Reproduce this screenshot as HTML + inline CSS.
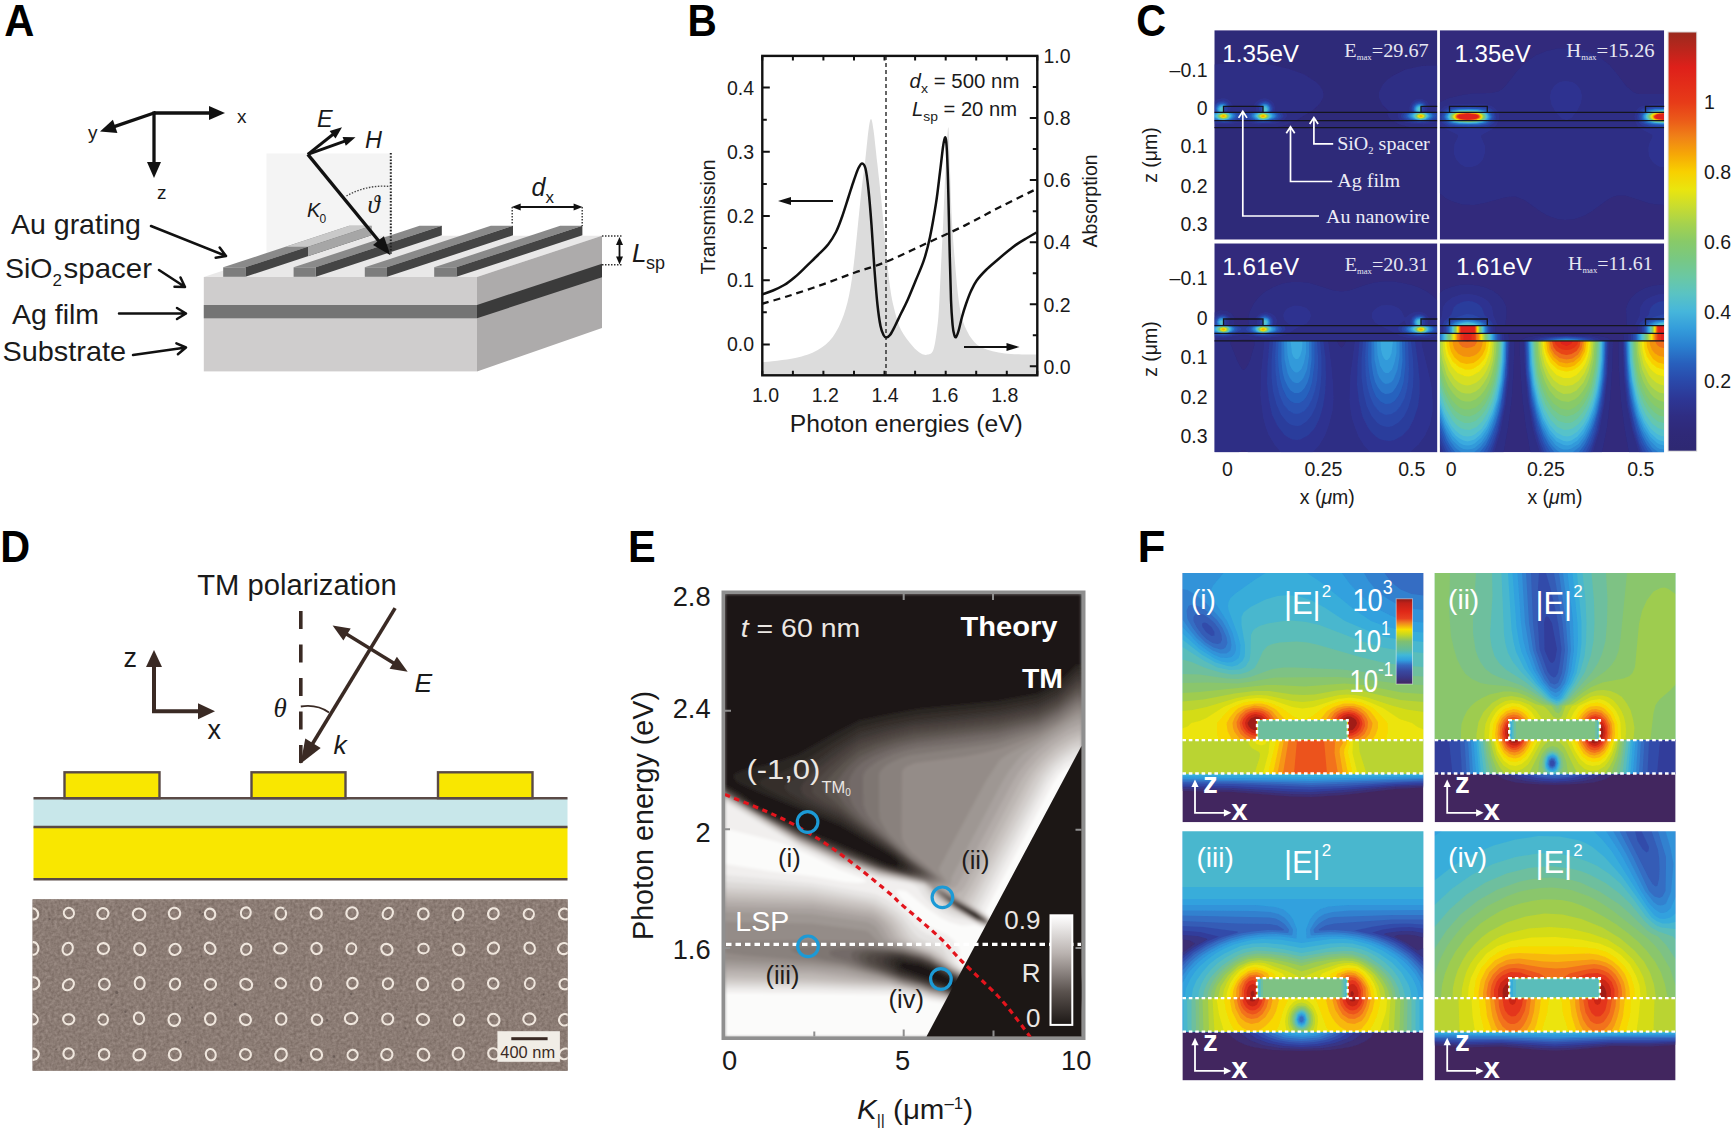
<!DOCTYPE html>
<html><head><meta charset="utf-8"><title>Figure</title>
<style>html,body{margin:0;padding:0;background:#fff;overflow:hidden}svg{display:block}</style>
</head><body>
<svg font-family='"Liberation Sans", sans-serif' width="1733" height="1132" viewBox="0 0 1733 1132">
<defs>
<linearGradient id="cbarC" x1="0" y1="0" x2="0" y2="1"><stop offset="0.000" stop-color="#9b2a1e"/><stop offset="0.042" stop-color="#bc251c"/><stop offset="0.083" stop-color="#de201a"/><stop offset="0.125" stop-color="#e32d19"/><stop offset="0.167" stop-color="#e73b18"/><stop offset="0.208" stop-color="#eb5919"/><stop offset="0.250" stop-color="#f08217"/><stop offset="0.292" stop-color="#f6a806"/><stop offset="0.333" stop-color="#f8d000"/><stop offset="0.375" stop-color="#eae50e"/><stop offset="0.417" stop-color="#c8dc30"/><stop offset="0.458" stop-color="#a5d24e"/><stop offset="0.500" stop-color="#88ca68"/><stop offset="0.542" stop-color="#78c883"/><stop offset="0.583" stop-color="#6bc8a2"/><stop offset="0.625" stop-color="#5ac3c3"/><stop offset="0.667" stop-color="#46b6db"/><stop offset="0.708" stop-color="#349ddb"/><stop offset="0.750" stop-color="#2a80d0"/><stop offset="0.792" stop-color="#285fbc"/><stop offset="0.833" stop-color="#2a49aa"/><stop offset="0.875" stop-color="#2d3796"/><stop offset="0.917" stop-color="#2f2d83"/><stop offset="0.958" stop-color="#2f2978"/><stop offset="1.000" stop-color="#2e2872"/></linearGradient>
<filter id="b07" x="-5%" y="-5%" width="110%" height="110%"><feGaussianBlur stdDeviation="0.7"/></filter>
<clipPath id="c1"><rect x="1214.3" y="30.2" width="223.29999999999995" height="209.60000000000002"/></clipPath>
<clipPath id="c2"><rect x="1439.6" y="30.2" width="224.60000000000014" height="209.60000000000002"/></clipPath>
<clipPath id="c3"><rect x="1214.3" y="243.2" width="223.29999999999995" height="209.10000000000002"/></clipPath>
<clipPath id="c4"><rect x="1439.6" y="243.2" width="224.60000000000014" height="209.10000000000002"/></clipPath>
<clipPath id="semclip"><rect x="32.5" y="899.3" width="535.2" height="171.4"/></clipPath>
<filter id="noise" x="0" y="0" width="100%" height="100%" color-interpolation-filters="sRGB"><feTurbulence type="fractalNoise" baseFrequency="0.33" numOctaves="2" seed="4"/><feColorMatrix type="matrix" values="0.2 0 0 0 0.445  0.2 0 0 0 0.385  0.2 0 0 0 0.355  0 0 0 0 1"/></filter>
<clipPath id="ce"><rect x="725.0" y="594.0" width="356.5" height="442.5"/></clipPath>
<filter id="b12" x="-5%" y="-5%" width="110%" height="110%"><feGaussianBlur stdDeviation="1.6"/></filter>
<linearGradient id="cbarE" x1="0" y1="0" x2="0" y2="1"><stop offset="0" stop-color="#fff"/><stop offset="0.35" stop-color="#b9b2af"/><stop offset="0.7" stop-color="#5a524e"/><stop offset="1" stop-color="#1c1715"/></linearGradient>
<clipPath id="cf00"><rect x="1182.4" y="573.1" width="241.0" height="249.2"/></clipPath><clipPath id="cf01"><rect x="1182.4" y="831.2" width="241.0" height="249.2"/></clipPath><clipPath id="cf10"><rect x="1434.6" y="573.1" width="241.0" height="249.2"/></clipPath><clipPath id="cf11"><rect x="1434.6" y="831.2" width="241.0" height="249.2"/></clipPath>
</defs>
<rect width="1733" height="1132" fill="#fff"/>
<g id="pA">
<text x="4.2" y="36.0" font-size="45" font-weight="bold" fill="#000" textLength="30.1" lengthAdjust="spacingAndGlyphs">A</text>
<line x1="154.0" y1="113.0" x2="213.8" y2="113.0" stroke="#111" stroke-width="3.3"/><polygon points="225.0,113.0 209.0,120.0 209.0,106.0" fill="#111"/>
<line x1="154.0" y1="111.5" x2="154.0" y2="166.8" stroke="#111" stroke-width="3.3"/><polygon points="154.0,178.0 147.0,162.0 161.0,162.0" fill="#111"/>
<line x1="155.5" y1="112.5" x2="110.6" y2="127.9" stroke="#111" stroke-width="3.3"/><polygon points="100.0,131.5 112.9,119.7 117.4,132.9" fill="#111"/>
<text x="237" y="123" font-size="19" fill="#1a1a1a">x</text>
<text x="88" y="139" font-size="19" fill="#1a1a1a">y</text>
<text x="157" y="199" font-size="19" fill="#1a1a1a">z</text>
<rect x="266.5" y="153.5" width="125.5" height="100" fill="#f4f4f4"/>
<polygon points="203.8,277 477,277 602,235.8 328.8,235.8" fill="#e9e8e8"/>
<rect x="203.8" y="277" width="273.2" height="94.4" fill="#cfcdcd"/>
<rect x="203.8" y="305" width="273.2" height="13.3" fill="#747474"/>
<polygon points="477,277 602,235.8 602,328 477,371.4" fill="#adabab"/>
<polygon points="477,305 602,263.8 602,277.2 477,318.3" fill="#3b3b3b"/>
<polygon points="223.2,267.3 245.39999999999998,267.3 371.4,225.8 349.2,225.8" fill="#8a8a8a"/>
<polygon points="245.39999999999998,267.3 371.4,225.8 371.4,235.3 245.39999999999998,276.8" fill="#444"/>
<rect x="223.2" y="267.3" width="22.2" height="9.5" fill="#7d7d7d"/>
<polygon points="293.6,267.3 315.8,267.3 441.8,225.8 419.6,225.8" fill="#8a8a8a"/>
<polygon points="315.8,267.3 441.8,225.8 441.8,235.3 315.8,276.8" fill="#444"/>
<rect x="293.6" y="267.3" width="22.2" height="9.5" fill="#7d7d7d"/>
<polygon points="364.8,267.3 387.0,267.3 513.0,225.8 490.8,225.8" fill="#8a8a8a"/>
<polygon points="387.0,267.3 513.0,225.8 513.0,235.3 387.0,276.8" fill="#444"/>
<rect x="364.8" y="267.3" width="22.2" height="9.5" fill="#7d7d7d"/>
<polygon points="434.2,267.3 456.4,267.3 582.4,225.8 560.2,225.8" fill="#8a8a8a"/>
<polygon points="456.4,267.3 582.4,225.8 582.4,235.3 456.4,276.8" fill="#444"/>
<rect x="434.2" y="267.3" width="22.2" height="9.5" fill="#7d7d7d"/>
<polygon points="266.5,153.5 392,153.5 392,253 386,255 340,270 266.5,270" fill="#fff" fill-opacity="0" />
<polygon points="285.8,246.7 308,246.7 371.4,225.8 349.2,225.8" fill="#c9c9c9"/>
<polygon points="308,246.7 371.4,225.8 371.4,235.3 308,256.2" fill="#a6a6a6"/>
<line x1="390.8" y1="153" x2="390.8" y2="255" stroke="#222" stroke-width="2" stroke-dasharray="1.6,1.6"/>
<path d="M346.5,196 A72,72 0 0 1 390,186.5" fill="none" stroke="#444" stroke-width="1.4" stroke-dasharray="1.5,1.5"/>
<line x1="307.8" y1="154.4" x2="382.1" y2="245.0" stroke="#111" stroke-width="3.3"/><polygon points="390.5,255.3 373.0,245.0 383.9,236.2" fill="#111"/>
<line x1="307.8" y1="154.4" x2="335.4" y2="132.5" stroke="#111" stroke-width="3"/><polygon points="342.0,127.3 335.5,138.5 329.6,131.0" fill="#111"/>
<line x1="307.8" y1="154.4" x2="347.6" y2="140.1" stroke="#111" stroke-width="3"/><polygon points="355.5,137.3 345.8,145.8 342.6,136.9" fill="#111"/>
<text x="317" y="126.5" font-size="23.5" font-style="italic" fill="#1a1a1a">E</text>
<text x="365" y="147.5" font-size="23.5" font-style="italic" fill="#1a1a1a">H</text>
<text x="307" y="216.5" font-size="20" font-style="italic" fill="#1a1a1a">K</text>
<text x="319.5" y="222.5" font-size="12" fill="#1a1a1a">0</text>
<text x="367.5" y="213" font-size="25" font-style="italic" font-family='"Liberation Serif","DejaVu Serif",serif' fill="#1a1a1a">ϑ</text>
<line x1="518.0" y1="207.0" x2="576.3" y2="207.0" stroke="#111" stroke-width="1.8"/><polygon points="582.6,207.0 573.6,210.5 573.6,203.5" fill="#111"/><polygon points="511.7,207.0 520.7,203.5 520.7,210.5" fill="#111"/>
<path d="M512.2,207 V225 M582.2,207 V226" stroke="#333" stroke-width="1.4" stroke-dasharray="1.5,1.5" fill="none"/>
<text x="531.5" y="195.5" font-size="25" font-style="italic" fill="#1a1a1a">d</text>
<text x="545.5" y="203" font-size="17" fill="#1a1a1a">x</text>
<line x1="619.5" y1="242.6" x2="619.5" y2="258.9" stroke="#111" stroke-width="1.8"/><polygon points="619.5,264.5 616.0,256.5 623.0,256.5" fill="#111"/><polygon points="619.5,237.0 623.0,245.0 616.0,245.0" fill="#111"/>
<path d="M602,236 H622 M602,264.8 H622" stroke="#333" stroke-width="1.4" stroke-dasharray="1.5,1.5" fill="none"/>
<text x="632" y="262" font-size="26" font-style="italic" fill="#1a1a1a">L</text>
<text x="646" y="269" font-size="18" fill="#1a1a1a">sp</text>
<text x="11" y="234" font-size="28.5" fill="#1a1a1a">Au grating</text>
<text x="5" y="278" font-size="28.5" fill="#1a1a1a">SiO</text>
<text x="52.5" y="286" font-size="17" fill="#1a1a1a">2</text>
<text x="63.5" y="278" font-size="28.5" fill="#1a1a1a" textLength="88.5" lengthAdjust="spacingAndGlyphs">spacer</text>
<text x="12" y="324" font-size="28.5" fill="#1a1a1a">Ag film</text>
<text x="2.5" y="361" font-size="28.5" fill="#1a1a1a" textLength="123.5" lengthAdjust="spacingAndGlyphs">Substrate</text>
<path d="M151,226 L226,256 M215.7,257.8 L226,256 L219.7,247.6" fill="none" stroke="#111" stroke-width="2.5" stroke-linecap="round" stroke-linejoin="round"/>
<path d="M159,270 L185,287 M174.5,286.7 L185,287 L180.5,277.5" fill="none" stroke="#111" stroke-width="2.5" stroke-linecap="round" stroke-linejoin="round"/>
<path d="M119,313.5 L186,313.5 M177.0,319.0 L186,313.5 L177.0,308.0" fill="none" stroke="#111" stroke-width="2.5" stroke-linecap="round" stroke-linejoin="round"/>
<path d="M133,355 L186,347.5 M177.9,354.2 L186,347.5 L176.4,343.3" fill="none" stroke="#111" stroke-width="2.5" stroke-linecap="round" stroke-linejoin="round"/>
</g>
<g id="pB">
<text x="687.6" y="36.0" font-size="45" font-weight="bold" fill="#000" textLength="29.3" lengthAdjust="spacingAndGlyphs">B</text>
<path d="M762.0,362.3 C767.5,361.6 786.0,359.9 795.2,357.9 C804.4,355.9 811.0,353.7 817.3,350.2 C823.6,346.7 828.4,342.8 832.8,336.9 C837.2,331.0 840.9,322.9 843.8,314.8 C846.7,306.7 848.6,298.2 850.4,288.3 C852.2,278.4 853.5,266.2 854.8,255.2 C856.1,244.2 857.1,233.0 858.2,222.1 C859.3,211.2 860.4,199.9 861.5,190.0 C862.6,180.1 863.8,172.6 865.0,162.6 C866.2,152.6 867.5,137.3 868.5,130.0 C869.5,122.7 870.2,119.0 871.0,119.0 C871.8,119.0 872.5,122.7 873.5,130.0 C874.5,137.3 875.9,150.9 877.2,162.6 C878.5,174.3 879.8,185.4 881.3,200.0 C882.8,214.6 884.5,235.3 886.0,250.0 C887.5,264.7 888.8,278.2 890.2,288.3 C891.6,298.4 892.8,303.4 894.6,310.4 C896.4,317.4 898.2,324.4 901.2,330.3 C904.2,336.2 909.0,341.9 912.3,345.8 C915.6,349.7 918.5,352.0 921.1,353.5 C923.7,355.0 925.7,355.2 927.7,354.6 C929.7,354.1 931.7,353.9 933.2,350.2 C934.7,346.5 935.7,339.1 936.6,332.5 C937.5,325.9 938.1,321.4 938.8,310.4 C939.5,299.4 940.3,281.0 941.0,266.3 C941.7,251.6 942.5,238.1 943.2,222.0 C944.0,205.9 944.6,185.8 945.5,170.0 C946.4,154.2 947.5,127.2 948.3,127.2 C949.0,127.2 949.4,154.2 950.0,170.0 C950.6,185.8 951.1,205.9 952.0,222.0 C952.9,238.1 954.2,253.4 955.3,266.3 C956.4,279.2 957.3,290.2 958.6,299.4 C959.9,308.6 960.8,314.9 963.0,321.5 C965.2,328.1 968.6,334.7 971.9,339.1 C975.2,343.5 977.4,345.6 982.9,348.0 C988.4,350.4 996.1,352.4 1005.0,353.5 C1013.9,354.6 1030.8,354.4 1036.0,354.6 L1037.3,375.3 L762.3,375.3 Z" fill="#dcdcdc"/>
<line x1="886" y1="55.9" x2="886" y2="375.3" stroke="#333" stroke-width="1.5" stroke-dasharray="4,3"/>
<path d="M762.0,303.8 C766.7,302.4 780.0,298.7 790.0,295.5 C800.0,292.3 811.5,288.4 822.3,284.6 C833.1,280.8 844.4,276.3 855.0,272.5 C865.6,268.7 874.1,266.8 885.8,262.0 C897.5,257.2 911.9,250.1 925.0,244.0 C938.1,237.9 952.1,231.8 964.6,225.6 C977.1,219.4 988.0,213.1 1000.0,207.0 C1012.0,200.9 1030.4,192.0 1036.5,189.0" fill="none" stroke="#111" stroke-width="2.3" stroke-dasharray="7,5"/>
<path d="M762.1,294.5 C763.9,293.8 769.3,292.1 773.0,290.5 C776.7,288.9 780.5,287.2 784.2,285.0 C787.9,282.8 791.3,280.1 795.0,277.0 C798.7,273.9 802.5,270.0 806.3,266.3 C810.1,262.6 814.3,258.7 818.0,255.0 C821.7,251.3 825.3,248.0 828.3,244.2 C831.3,240.4 833.7,236.5 836.0,232.0 C838.3,227.5 839.9,222.8 842.0,217.0 C844.1,211.2 846.5,203.2 848.5,197.0 C850.5,190.8 852.3,184.8 854.0,180.0 C855.7,175.2 857.1,170.8 858.5,168.0 C859.9,165.2 860.9,163.3 862.1,163.4 C863.3,163.5 864.4,164.1 865.5,168.5 C866.6,172.9 867.5,180.6 868.5,190.0 C869.5,199.4 870.5,211.7 871.5,225.0 C872.5,238.3 873.5,256.7 874.5,270.0 C875.5,283.3 876.5,295.7 877.5,305.0 C878.5,314.3 879.5,321.0 880.5,326.0 C881.5,331.0 882.5,333.1 883.5,335.0 C884.5,336.9 885.2,337.6 886.3,337.6 C887.4,337.6 888.5,336.9 890.0,335.0 C891.5,333.1 893.2,329.6 895.0,326.0 C896.8,322.4 898.9,317.8 901.0,313.5 C903.1,309.2 905.2,305.4 907.6,300.0 C910.0,294.6 912.8,287.6 915.5,281.0 C918.2,274.4 921.5,267.5 923.9,260.2 C926.3,252.9 928.0,246.5 930.0,237.0 C932.0,227.5 934.3,214.1 936.0,203.3 C937.7,192.5 938.8,181.4 940.0,172.0 C941.2,162.6 942.2,152.8 943.0,147.0 C943.8,141.2 944.4,137.6 945.0,137.4 C945.6,137.2 946.1,138.9 946.6,146.0 C947.1,153.1 947.5,163.5 948.0,180.0 C948.5,196.5 949.0,225.0 949.5,245.0 C950.0,265.0 950.5,286.7 951.0,300.0 C951.5,313.3 952.1,319.2 952.6,325.0 C953.1,330.8 953.7,333.0 954.3,335.0 C954.9,337.0 955.3,337.7 956.0,337.0 C956.7,336.3 957.5,334.3 958.5,331.0 C959.5,327.7 960.8,321.5 962.0,317.0 C963.2,312.5 964.5,308.3 966.0,304.0 C967.5,299.7 969.2,294.9 971.0,291.0 C972.8,287.1 974.2,284.0 976.7,280.5 C979.2,277.0 982.6,273.4 986.0,270.0 C989.4,266.6 993.4,263.4 997.1,260.2 C1000.8,257.0 1004.6,253.7 1008.0,251.0 C1011.4,248.3 1014.2,246.1 1017.4,243.9 C1020.6,241.7 1023.8,239.9 1027.0,238.0 C1030.2,236.1 1034.9,233.4 1036.5,232.5" fill="none" stroke="#111" stroke-width="2.5" stroke-linejoin="round"/>
<rect x="762.3" y="55.9" width="275.0" height="319.40000000000003" fill="none" stroke="#111" stroke-width="2.4"/>
<path d="M762.3,55.9 v4.5 M762.3,375.3 v-4.5 M792.9,55.9 v4.5 M792.9,375.3 v-4.5 M823.4,55.9 v4.5 M823.4,375.3 v-4.5 M854.0,55.9 v4.5 M854.0,375.3 v-4.5 M884.5,55.9 v4.5 M884.5,375.3 v-4.5 M915.1,55.9 v4.5 M915.1,375.3 v-4.5 M945.7,55.9 v4.5 M945.7,375.3 v-4.5 M976.2,55.9 v4.5 M976.2,375.3 v-4.5 M1006.8,55.9 v4.5 M1006.8,375.3 v-4.5 M1037.3,55.9 v4.5 M1037.3,375.3 v-4.5 M762.3,344.4 h7.5 M762.3,312.3 h4.5 M762.3,280.2 h7.5 M762.3,248.1 h4.5 M762.3,216.0 h7.5 M762.3,183.9 h4.5 M762.3,151.8 h7.5 M762.3,119.7 h4.5 M762.3,87.6 h7.5 M1037.3,366.3 h-7.5 M1037.3,335.3 h-4.5 M1037.3,304.2 h-7.5 M1037.3,273.2 h-4.5 M1037.3,242.2 h-7.5 M1037.3,211.2 h-4.5 M1037.3,180.1 h-7.5 M1037.3,149.1 h-4.5 M1037.3,118.1 h-7.5 M1037.3,87.0 h-4.5" stroke="#111" stroke-width="2" fill="none"/>
<text x="754" y="351.4" font-size="19.5" text-anchor="end" fill="#1a1a1a">0.0</text>
<text x="754" y="287.2" font-size="19.5" text-anchor="end" fill="#1a1a1a">0.1</text>
<text x="754" y="222.99999999999997" font-size="19.5" text-anchor="end" fill="#1a1a1a">0.2</text>
<text x="754" y="158.79999999999995" font-size="19.5" text-anchor="end" fill="#1a1a1a">0.3</text>
<text x="754" y="94.59999999999997" font-size="19.5" text-anchor="end" fill="#1a1a1a">0.4</text>
<text x="1043.5" y="373.6" font-size="19.5" fill="#1a1a1a">0.0</text>
<text x="1043.5" y="311.54" font-size="19.5" fill="#1a1a1a">0.2</text>
<text x="1043.5" y="249.48000000000002" font-size="19.5" fill="#1a1a1a">0.4</text>
<text x="1043.5" y="187.42000000000002" font-size="19.5" fill="#1a1a1a">0.6</text>
<text x="1043.5" y="125.36" font-size="19.5" fill="#1a1a1a">0.8</text>
<text x="1043.5" y="63.3" font-size="19.5" fill="#1a1a1a">1.0</text>
<text x="765.5" y="402" font-size="19.5" text-anchor="middle" fill="#1a1a1a">1.0</text>
<text x="825.3" y="402" font-size="19.5" text-anchor="middle" fill="#1a1a1a">1.2</text>
<text x="885.1" y="402" font-size="19.5" text-anchor="middle" fill="#1a1a1a">1.4</text>
<text x="944.9" y="402" font-size="19.5" text-anchor="middle" fill="#1a1a1a">1.6</text>
<text x="1004.7" y="402" font-size="19.5" text-anchor="middle" fill="#1a1a1a">1.8</text>
<text x="789.8" y="431.8" font-size="24.6" fill="#1a1a1a" textLength="233" lengthAdjust="spacingAndGlyphs">Photon energies (eV)</text>
<text transform="translate(714.5,217) rotate(-90)" font-size="19.5" text-anchor="middle" fill="#1a1a1a">Transmission</text>
<text transform="translate(1097,201) rotate(-90)" font-size="19.5" text-anchor="middle" fill="#1a1a1a">Absorption</text>
<text x="909.6" y="87.7" font-size="19.6" fill="#1a1a1a" textLength="109.8" lengthAdjust="spacingAndGlyphs"><tspan font-style="italic">d</tspan><tspan font-size="13.5" dy="5">x</tspan><tspan dy="-5"> = 500 nm</tspan></text>
<text x="912" y="116.2" font-size="19.6" fill="#1a1a1a" textLength="105" lengthAdjust="spacingAndGlyphs"><tspan font-style="italic">L</tspan><tspan font-size="13.5" dy="5">sp</tspan><tspan dy="-5"> = 20 nm</tspan></text>
<line x1="833.0" y1="201.0" x2="787.1" y2="201.0" stroke="#111" stroke-width="2.2"/><polygon points="778.0,201.0 791.0,197.0 791.0,205.0" fill="#111"/>
<line x1="964.0" y1="347.0" x2="1010.4" y2="347.0" stroke="#111" stroke-width="2.2"/><polygon points="1019.5,347.0 1006.5,351.0 1006.5,343.0" fill="#111"/>
</g>
<g id="pC">
<text x="1136.2" y="35.6" font-size="45" font-weight="bold" fill="#000" textLength="29.8" lengthAdjust="spacingAndGlyphs">C</text>
<g clip-path="url(#c1)"><g filter="url(#b07)">
<rect x="1214.3" y="30.2" width="223.29999999999995" height="209.60000000000002" fill="#2f2979"/>
<path fill="#2f2e85" fill-rule="evenodd" d="M1323,98l-3.5,6-6.5,6-18.5,11.5-10,4-10,2-11,1-38,0-11-0.5 0-63.5 19-2 20,0 19,2.5 17,4 15,5.5 11.5,7.5 4,4 2.5,4 1,4zM1437.5,127l-15,1-13-1-10-2.5-8-4.5-3-3-1.5-4 3-1-7.5-7-3.5-7 0-6 3.5-7 4.5-5 5.5-4 13-6.5 16-3.5 16-0.5z"/>
<path fill="#2e3390" fill-rule="evenodd" d="M1287,116l-2,3-3.5,2.5-6,2-6,0.5-11,0.5-15-2.5-17,2.5-12-0.5 0-22.5 3-2 4-1 4,0 3,1.5 2,2 2.5,4-2.5,1-0.5,5 26.5,0-0.5-5-2.5-1 1.5-3 4.5-3.5 3-1 4,0 5,2.5 2.5,3 1,4-0.5,4 11.5,1zM1437.5,122l-14,2.5-13-1-5-1-5-2.5-2-2-1-3 1-2 11-1 0-5 2.5-5 3.5-2.5 6-0.5 5,2 3.5,5-2.5,1-0.5,5 10.5,0.5z"/>
<path fill="#2c3c9c" fill-rule="evenodd" d="M1283.5,116l-1,2-3,2-10,3-12,0-14-3.5-15,3.5-14-0.5 0-17.5 4-3.5 5-1 4,1.5 3,4-3,1 0,3-1,2 17,1 16.5-1-1-2 0-3-3-1 0.5-1 4-3.5 5-1 3,1 3,2.5 2,4-1,4 9.5,1zM1437.5,120l-11,2.5-13,0-6-1-4-2-2.5-2.5 0-2 1.5-2 9-1-0.5-4 1.5-4 3-2.5 5-1 4,1.5 3,4-3,1 0.5,3-1,2 13.5,0.5z"/>
<path fill="#2b47a8" fill-rule="evenodd" d="M1281,116l-1,2-3,2-9.5,2-6,0.5-6-1-12-5-12,5-7,1-10-1 0-9.5 0.5,0-0.5-4 1-3 2-2 3-1 3,0 3,1 2.5,3-4,1 0.5,2-1,3 15,1 4,1.5 3.5-1.5 15.5-1-1.5-2 0.5-3-4-1 3-3 5-1.5 3,1 2.5,2.5 1,3-0.5,4 8,1zM1437.5,118l-9,3.5-10,1-6-1-5-1.5-3.5-2-1-2 2-3 7.5-1-0.5-4 1-3 2.5-2 4-1 4,1 3,3-4.5,1 1,2-1.5,3 15,1 1,0.5z"/>
<path fill="#2952b3" fill-rule="evenodd" d="M1238.5,117l-4,2.5-7,2-6,0-7-1 0-8 1.5-0.5-1-3 1-3 1.5-2 3-1 3-0.5 2,1 2.5,2.5-4,1 0,5 12.5,1 2,2zM1279,116l-1,2-3.5,2-5,1.5-6,0.5-10.5-2-4-2-1.5-2 0.5-1 2-2 12.5-1 0-5-4-1 3-2.5 3-1 4,1 2,2.5 1,3-1,3 7,1zM1436,116l-1.5,2-4,2-10,2-10.5-2-4-2-1-2 2-3 6.5-1-0.5-3 0.5-3 3-2.5 3-1 3,1 3,2.5-4,1 0,5 12,1 2.5,2z"/>
<path fill="#2862be" fill-rule="evenodd" d="M1236,117l-2.5,2-5,1.5-5,1-9-1.5 0-7.5 2-0.5-0.5-4 1.5-3 3-1.5 3,0 2,0.5 1.5,2-3,1 0,5 10.5,1 2,2zM1276,118l-6.5,2.5-8,0.5-8-2-2-1-1.5-2 1-2 1-1 10.5-1 0-5-3-1 3-2.5 3,0 3,1 1.5,2.5 0.5,3-0.5,2 5.5,1 1,1 1,2zM1433.5,117l-2.5,2-3.5,1.5-8,0.5-9-1.5-2.5-1.5-1.5-2 1-2 1.5-1 5.5-1-1-3 1-3 2-2 3-0.5 3,0.5 2,2-3,1 0,5 10,1 2.5,2z"/>
<path fill="#2a76ca" fill-rule="evenodd" d="M1234.5,117l-2.5,2-4.5,1.5-9,0-4-1 0-6.5 3-1-1-4 2-2.5 2-1.5 3,0 3,2-2.5,1 0,5 8.5,1 2.5,2zM1276,116l-1.5,2-2,1-9,2-8-1.5-2.5-1.5-1.5-2 1-2 1.5-1 9-1-0.5-5-2.5-1 2.5-1.5 2-0.5 3,0.5 2,2.5 0.5,2-1,3 4.5,1 1.5,1zM1432.5,116l-1.5,2-2.5,1.5-8,1.5-9-2-2-1-1.5-2 1-2 1.5-1 4.5-1-1-2 0.5-3 2-2 3-1 2,0.5 2.5,1.5-3,1 0,5 9,1 1.5,1z"/>
<path fill="#2d89d3" fill-rule="evenodd" d="M1233,117l-2.5,2-4,1.5-7-0.5-5-1.5 0-5.5 4-1-1.5-3 1.5-3 2-1 3-0.5 2,1.5-1.5,1-0.5,5 7.5,1 2.5,2zM1273,118l-5.5,2-6,0.5-5.5-1.5-1.5-1-1.5-2 1-2 1.5-1 7.5-1 0-5-2-1 2.5-1.5 2,0 2.5,1.5 1,2 0,2-1,2 4,1 2.5,2 0,2zM1430.5,117l-5,3-6,0.5-6.5-1.5-2-1-1.5-2 1-2 5.5-2-1-2 0.5-3 2-2 2-0.5 3.5,1.5-2,1 0,5 7.5,1 2.5,2z"/>
<path fill="#339ada" fill-rule="evenodd" d="M1231,118l-5.5,2-6,0-5-2.5 0-3.5 4.5-2-1-3 1.5-3 2-1 2,0.5 1,0.5-1,1 0,5 6,1 2,1 1,2zM1255.5,118l-1.5-2 1-2 2-1 6-1 0-5-1-1 2.5-1 2,0.5 2,2 0,2.5-1,2 4.5,2 1.5,2-2,2-6,2-6,0zM1428.5,118l-4,2-5,0-6-1.5-3-2.5 1.5-2 4.5-2-1-2 0-2 1.5-2 2.5-1 2.5,1-1,1 0,5 6,1 1.5,1 1.5,2z"/>
<path fill="#3aaadf" fill-rule="evenodd" d="M1230,118l-3.5,1.5-5,0.5-5.5-2-1.5-2 1-2 4.5-2-1.5-2 0-2 2-2 2-0.5 1,0.5 0,6 5,1 3,2-0.5,2zM1259.5,119.5l-4-2.5-0.5-2 3-2 5.5-1-0.5-6 3.5,0 1.5,3-1.5,3 4.5,2 1,1 0,2-5.5,2.5zM1427.5,118l-4,1.5-5,0.5-5-2-1.5-2 1-2 4.5-2-1.5-2 0-2 1.5-1.5 2-0.5 1.5,0-0.5,6 5.5,1 2.5,2 0.5,1z"/>
<path fill="#49b9da" fill-rule="evenodd" d="M1223.5,111.5l-2,0.5-2-1.5 0-2.5 1-1 3-0.5zM1265.5,112l-2-0.5 0-5 2,0 1.5,1.5 0.5,2zM1420.5,111.5l-2,0-1.5-1.5 0-2 1.5-1.5 2,0zM1231,116l-2.5,2.5-5,1.5-5-1-3-2 0-1 1-2 6-2 6,1.5 2,1.5zM1271,116l0,1-2.5,1.5-5,1.5-5-1-3-3 1-1.5 2-1 6-1.5 5.5,2zM1428,116l-2.5,3-5,0.5-5-1-2.5-2.5 1-2 5.5-2 6,1.5 2,1z"/>
<path fill="#57c2ca" fill-rule="evenodd" d="M1265.5,111l-2,0 0-3.5 2,0 1,0.5 0,2zM1223,111l-1.5,0-1.5-1 0-2 1.5-1 2,0.5zM1419.5,111l-2-1 0.5-2 1.5-1 1,0.5 0,1.5 0,2zM1230,116l-1.5,2.5-5,1-5-1-2.5-2.5 1.5-2 5-1.5 6,1zM1270.5,116l-2,2.5-5,1-5-1-2-2.5 2-2.5 6-1 4.5,1.5zM1427.5,116l-2,2.5-5,1-5-1-2-2.5 1.5-2 4.5-1.5 6,1z"/>
<path fill="#65c7af" fill-rule="evenodd" d="M1229.5,116l-2,2.5-4,1-4-1-2.5-2.5 1.5-2 5-1 4,0.5zM1269.5,116l-1.5,2-4.5,1.5-4-1-2.5-2.5 2.5-2.5 4-0.5 4.5,1zM1427,116l-2.5,2.5-4,1-4.5-1.5-1.5-2 1.5-2 4.5-1 4,0.5z"/>
<path fill="#70c895" fill-rule="evenodd" d="M1229,116l-1.5,2-4,1-4.5-1-1.5-2 2-2 4-1 4,1zM1269,116l-1.5,2-4,1-4-1-2-2 2-2 4-1 3.5,1zM1426.5,116l-2,2-4,1-4-1-1.5-2 2-2 3.5-1 4,1z"/>
<path fill="#7bc87c" fill-rule="evenodd" d="M1228.5,116l-1.5,2-3.5,1-3.5-1-2-2 2-2 3.5-0.5 3,0.5zM1268.5,116l-2,2-3,1-4-1-1.5-2 2-2 3.5-0.5 3,0.5zM1426,116l-1.5,2-4,1-3-1-1.5-2 1.5-2 3-0.5 3.5,0.5z"/>
<path fill="#88ca68" fill-rule="evenodd" d="M1228,116l-1.5,2-3,0.5-3-0.5-2-2 2-1.5 3-1 3,1zM1268,116l-1.5,2-3,0.5-3-0.5-2-2 2-2 3-0.5 3,1zM1425.5,116l-2,2-3,0.5-3-1-1-1.5 1-1.5 3-1 3,0.5z"/>
<path fill="#9ed054" fill-rule="evenodd" d="M1227.5,116l-1,1.5-3,1-3-1-1.5-1.5 1.5-1.5 3-0.5 3,0.5zM1267.5,116l-1,1.5-3,1-3-1-1.5-1.5 1.5-1.5 3-0.5 3,1zM1425,116l-1.5,1.5-3,1-3-1-0.5-1.5 0.5-1 3-1 3,0.5z"/>
<path fill="#bad83c" fill-rule="evenodd" d="M1227,116l-0.5,1.5-3,0.5-3-1-1-1 1-1 3-1 3,1zM1267,116l-1.5,1.5-2,0.5-3-0.5-1-1.5 1-1 3-1 2,0.5zM1424.5,116l-1,1.5-3,0.5-2-0.5-1.5-1.5 1.5-1.5 2-0.5 3,1z"/>
<path fill="#d6df22" fill-rule="evenodd" d="M1226.5,116l-1,1.5-2,0.5-3-1-0.5-1 1.5-1 2-0.5 2,0zM1266.5,116l-0.5,1-2.5,1-3-1-0.5-1 0.5-1 3-0.5 2,0.5zM1424,116l-0.5,1-3,1-2.5-1-0.5-1 1-1 2-0.5 3,0.5z"/>
<path fill="#f1e607" fill-rule="evenodd" d="M1226,116l-0.5,1-2,0.5-2.5-0.5-0.5-1 1-1 2-0.5 2,0.5zM1266,116l-0.5,1-2,0.5-2,0-1-1.5 1-1 2-0.5 1.5,0.5zM1423.5,116l-1,1.5-2,0-2-0.5-0.5-1 2.5-1.5 2,0.5z"/>
<path fill="#f8d000" fill-rule="evenodd" d="M1226,116l-1,1-1.5,0.5-2-0.5-0.5-1 2.5-1zM1265.5,116l-0.5,1-1.5,0.5-2-0.5-0.5-1 1-1 1.5,0zM1423,116l-0.5,1-2,0.5-2-1.5 2-1 1.5,0z"/>
<path fill="#f7b003" fill-rule="evenodd" d="M1225.5,116l-2,1-2-1 2-1zM1265,116l-1.5,1-1.5,0-1-1 2.5-1zM1422.5,116l-0.5,1-1.5,0-1.5-1 1.5-1z"/>
</g></g>
<g clip-path="url(#c2)"><g filter="url(#b07)">
<rect x="1439.6" y="30.2" width="224.60000000000014" height="209.60000000000002" fill="#302a7b"/>
<path fill="#2f2e85" fill-rule="evenodd" d="M1664,205l-14-1.5-24.5-8-8,0-4,1-5,2.5-17,12.5-8,4.5-9,3-9,1-8-1-9-3-8-4.5-16-11.5-9-3.5-9,0.5-22,6-11,2-11-0.5-11-3.5-6-3-6-5 0-90.5 8-4 15-3.5 10-1.5 19-0.5 7-1.5 4-2.5 3-3 12.5-16 7.5-7.5 10-7 11-4.5 11-2.5 12-0.5 12,2 11,3.5 9,5 8,6.5 6,7 11,14.5 6,5 3.5,2 4,0.5 24,0z"/>
<path fill="#2e3390" fill-rule="evenodd" d="M1566.5,120l-5-1.5-6-6.5-4-7.5-1.5-7.5 1-6 3.5-5.5 5-3.5 6-1 7,1 4.5,3 3.5,5 1.5,6-1,7-4,8-5.5,7zM1476.5,165.5l-5,1.5-6,0-5.5-3-4-5-2-5 0-5 0.5-5 3.5-7 0-2-3.5-2-10-4.5-5-4.5 0-13 5-4.5 6-2 6-0.5 25,0 5,0.5 5,1.5 4,3 2.5,3 1,3 0,4-2.5,6-5,4.5-10,5.5-0.5,2 4,9 0,7-2.5,7-2.5,3zM1664,167l-5-0.5-4-2.5-3-3-3-5-0.5-4 0-5 1-4 3-6 0-2-13.5-7.5-2-2.5-2-4-0.5-5 1.5-5 3-3.5 5-2 8-1.5 12-0.5z"/>
<path fill="#2c3c9c" fill-rule="evenodd" d="M1496,117l-0.5,3-1.5,3-5.5,3.5-8,2-11,0.5-13-0.5-9-2-5-3.5-2-3-0.5-3 0.5-3 2-3 5-3.5 9-1.5 14-0.5 12,0.5 7,2 3,1.5 2,2.5zM1664,129l-14-1-8-2.5-3-3-1.5-3.5 0-4 1-3 3.5-3.5 5-1.5 7-1 10-0.5z"/>
<path fill="#2b47a8" fill-rule="evenodd" d="M1494.5,117l-2,4.5-5,3.5-7,1.5-11,0.5-13-0.5-7-1-5.5-3.5-1.5-2-1-3 1-3 1-2 5-3 7-1.5 14-0.5 11,0.5 7,1 5,3.5 1.5,2zM1664,127l-13-0.5-8-3-2-1.5-1.5-3-0.5-3 1-3 3-3 4-1.5 6-1.5 11,0z"/>
<path fill="#2952b3" fill-rule="evenodd" d="M1493,117l-2,4-4.5,3-7,1.5-11,0.5-11-0.5-7-1-5.5-3.5-2-4 1.5-4.5 5-3 7-1.5 12-0.5 12,0.5 6,1.5 5,3.5zM1664,126l-12-0.5-7-2-3-2.5-1-2-0.5-3 0.5-2 2.5-3 4.5-2 6-1 10-0.5z"/>
<path fill="#2862be" fill-rule="evenodd" d="M1492,117l-2.5,4-4,2.5-7,1.5-21,0-7-1.5-4-2.5-2.5-4 1.5-4 4-2.5 8-2 11,0 11,0.5 7,1.5 4,2.5zM1664,125l-11-0.5-7-1.5-2.5-2-1.5-2 0-4 2-3 5-2.5 6-1 9,0z"/>
<path fill="#2a76ca" fill-rule="evenodd" d="M1491,117l-1,2-1.5,2-4,2-7,1-19,0-7-1-5-3-1.5-3 0.5-2 1.5-2 4.5-2.5 6-1 11-0.5 11,0.5 6,1.5 4,2.5zM1664,124.5l-11-0.5-6-1.5-4-3.5-0.5-2 0.5-2 2-3 4-1.5 6-1.5 9,0z"/>
<path fill="#2d89d3" fill-rule="evenodd" d="M1490,117l-1.5,3-5,2.5-6,1-19,0-6-1-5-2.5-1.5-3 0.5-2 1.5-2 4.5-2.5 7-1 18,0 7,1.5 4,2.5zM1664,124l-10-0.5-6-1.5-4-3-0.5-2 0-2 2.5-2.5 4-2 6-1 8,0z"/>
<path fill="#339ada" fill-rule="evenodd" d="M1489,117l-1.5,3-5,2.5-6,1-17,0-6-1-5-2.5-1.5-3 1-3 4.5-3 7-1 9-0.5 10,0.5 5,1.5 4.5,2.5zM1664,123.5l-9-0.5-7-1.5-3-2.5-1-2 0.5-2 2.5-2.5 4-1.5 13-1.5z"/>
<path fill="#3aaadf" fill-rule="evenodd" d="M1488.5,117l-2,3-4,2-5,1-9,0.5-8-0.5-7-1-4-2-2-3 1-3 4-2.5 6-1 10-0.5 9,0.5 6,1 4,2.5zM1664,123.5l-9-0.5-6-1.5-3-2.5-1-2 0.5-2 1.5-2 4-1.5 13-1.5z"/>
<path fill="#49b9da" fill-rule="evenodd" d="M1487.5,117l-1,2-4,2.5-6,1-17,0-6-1-4-2-1.5-2.5 1.5-3 4-2.5 6-1 17,0 6,1.5 4,2zM1664,123l-9-0.5-5.5-1.5-3.5-3 0-3 2-2 4-1.5 12-1z"/>
<path fill="#57c2ca" fill-rule="evenodd" d="M1487,117l-1.5,2.5-4,2-6,1-15,0-6-1-4-2-1.5-2.5 1-3 4.5-2 6-1.5 16,0.5 6,1 3.5,2zM1664,123l-8-0.5-6-1.5-3.5-3 0-3 2.5-2 3-1.5 12-1z"/>
<path fill="#65c7af" fill-rule="evenodd" d="M1486.5,117l-2,2.5-4,2-12,1-13-1-4-2-2-2.5 1.5-3 3.5-2 5-1 9,0 8,0 5,1.5 3.5,1.5zM1664,122.5l-7-0.5-6-1-3-2-1-3 1.5-2 3.5-2 12-1z"/>
<path fill="#70c895" fill-rule="evenodd" d="M1485.5,117l-1,2-4,2-12,1-13-1-4-2-1.5-2 1.5-3 3-1.5 6-1 16,0 5,1 3.5,2.5zM1664,122l-7,0-5-1-3-2-1.5-3 1.5-2 3-1.5 5-1 7-0.5z"/>
<path fill="#7bc87c" fill-rule="evenodd" d="M1485,117l-1.5,2-3,1.5-5,1-15,0-5-1-3-1.5-1.5-2 0.5-2 4-2.5 5-1 15,0 5,1 4,2.5zM1664,122l-7-0.5-5-1-3-2.5-0.5-2 1.5-2 3-1.5 11-1z"/>
<path fill="#88ca68" fill-rule="evenodd" d="M1484.5,117l-1.5,2-3.5,1.5-12,1-11-1-3.5-1.5-1.5-2 0.5-2 3.5-2 5-1 7-0.5 12,1 4,2.5zM1664,121.5l-11-1-3.5-2.5-0.5-2 1.5-2 3.5-1.5 10-1z"/>
<path fill="#9ed054" fill-rule="evenodd" d="M1483.5,117l-1.5,2-3.5,1.5-11,1-11-1-3-1.5-1.5-2 0.5-2 3.5-2 11.5-1 12,1 3.5,2zM1664,121.5l-11-1.5-3-2-0.5-2 2-2 2.5-1 10-1z"/>
<path fill="#bad83c" fill-rule="evenodd" d="M1483,117l-1.5,2-3,1-11,1-10-0.5-3-1.5-2-2 1-2 3-2 11-1 7,0.5 5,1 3,1.5zM1664,121l-7,0-4-1.5-2.5-1.5-0.5-2 2-2 2.5-1 9.5-1z"/>
<path fill="#d6df22" fill-rule="evenodd" d="M1482.5,117l-1.5,2-3.5,1-10,1-10-1-2.5-1-2-2 1-2 2.5-1.5 5-1 6-0.5 11,1.5 3.5,1.5zM1664,121l-10-1-3-2-0.5-2 1.5-1.5 3-1.5 9-1z"/>
<path fill="#f1e607" fill-rule="evenodd" d="M1482,117l-1.5,2-3,1-10,1-9-1-3-1-2-2 1-2 3-1.5 10-1 11,1 3,1.5zM1664,121l-10-1.5-2-1.5-0.5-2 0.5-1 3-1.5 9-1z"/>
<path fill="#f8d000" fill-rule="evenodd" d="M1481.5,117l-1,1.5-3,1-10,1-9-0.5-3-1.5-1-1.5 0.5-2 2.5-1.5 10-1 6,0.5 5,1 2.5,1zM1664,120.5l-6-0.5-4-1-1.5-1-0.5-2 1-1.5 3-1 8-1z"/>
<path fill="#f7b003" fill-rule="evenodd" d="M1481,117l-1.5,1.5-3,1-9,1-9-1-3-1.5-0.5-1 0.5-2 2-1 10-1 10,0.5 2.5,1.5zM1664,120.5l-9-1-2-1.5-0.5-2 3.5-2.5 8-0.5z"/>
<path fill="#f29110" fill-rule="evenodd" d="M1480.5,117l-1,1.5-3,1-9,0.5-8-0.5-3-1-1-1.5 0.5-2 2-1 9.5-1 10,1 2,1zM1664,120l-9-1-1.5-1-0.5-2 3-2 8-1z"/>
<path fill="#ee6e1a" fill-rule="evenodd" d="M1480,117l-3.5,2.5-9,0.5-8-0.5-3-1.5-0.5-1 0.5-2 2.5-1 8.5-1 9.5,1 2,1zM1664,120l-8-1-2-1-0.5-2 3.5-2 7-1z"/>
<path fill="#e84418" fill-rule="evenodd" d="M1479.5,117l-1,1-3,1-8,1-8-1-3-2 1-2 2-1 8-0.5 9,1 2,0.5zM1664,120l-8-1-2-1.5 0-1.5 3.5-2 6.5-0.5z"/>
<path fill="#e53219" fill-rule="evenodd" d="M1479,117l-3.5,2-8,0.5-7-0.5-3.5-2 0-1 2.5-1.5 8-1 8,1 2,0.5zM1664,119.5l-7-0.5-2-1-0.5-2 3.5-2 6-0.5z"/>
<path fill="#e0221a" fill-rule="evenodd" d="M1478,117l-3.5,2-7,0.5-6-0.5-3.5-2 0-1 1.5-1 8-1 8,0.5 2.5,1.5zM1664,119.5l-7-1-1.5-1.5 0-1 2.5-1.5 6-0.5z"/>
</g></g>
<g clip-path="url(#c3)"><g filter="url(#b07)">
<rect x="1214.3" y="243.2" width="223.29999999999995" height="209.10000000000002" fill="#302a7b"/>
<path fill="#2f2e85" fill-rule="evenodd" d="M1437.5,452.5l-189.5,0-2.5-2-2-0.5-2,0.5-2.5,2-24.5,0 0-140 6-2.5 6,0.5 5,3 4,5.5-1.5,1 0,5 15,0-1-6 1.5-7 4-8 5.5-7 6.5-5.5 8-4.5 9-3.5 9-1.5 9,0 9,1 24,7.5 8,1 8-1 16-5.5 9-2.5 9-1 10,0 9,1.5 9,2 8.5,3 7.5,4 5.5,4 4.5,4.5zM1244.5,369.5l3-3.5 3-7 4-14 0-4-1-1-9-1-12.5,2-1.5,1 0,2 7,17.5 4,7 2,1.5zM1346,341l-0.5-0.5-4-0.5-4,0.5-0.5,0.5 2.5,5 2,1.5 2-1.5z"/>
<path fill="#2e3390" fill-rule="evenodd" d="M1437.5,336l-9,2-10,0.5-10-0.5-9-2.5-24-12.5-3.5-5 0-5 2-3 3.5-2.5 4-2 5-0.5 6,0.5 6,2.5 3,3 3,6.5 1,0 4.5-3.5 3.5-1.5 5-1 4,1 4,2 3,4.5-2,1 0,5 10,0.5zM1311,316l-1.5,4-3,3.5-10,4.5-9,6-9,2.5-8,1-9,0-18-3-17,3-12,0 0-20.5 2-2 3-1.5 6,0.5 4.5,3 1,2-2.5,1 0.5,3-0.5,2 13,0.5 16-0.5-0.5-3 0.5-2-2.5-1 1-2 4.5-3.5 5-1.5 5,1 4.5,3 2,4-1,5 15,0-3.5-2-3-3-1-3 0-3 1.5-3 2.5-2.5 3-1.5 4-1.5 6,0.5 6,2 3.5,4zM1406.5,325l-2-4.5-6.5,4.5zM1312.5,452.5l-31.5,0-6.5-8-6-10-3-8-2.5-10-2.5-20 0.5-23 3.5-32.5 9-0.5 45,0 9.5,0.5 3,21.5 2,21 0.5,15-1,12-3.5,14-4,11-6,10zM1409.5,452.5l-39,0-6.5-7-5.5-9-3.5-9-3-9-1.5-9-1-10 1-25 4.5-33.5 9.5-0.5 49,0 8,0.5 0,3 6.5,26.5 3.5,16 1,13 0,12-2.5,13-5,11-6.5,9z"/>
<path fill="#2c3c9c" fill-rule="evenodd" d="M1285.5,329l-1,2-4,3-11,2.5-13-0.5-13-4-14,4-7,0.5-8-0.5 0-16.5 1.5-2.5 2.5-1.5 5-1 4,2 2,2.5-3.5,1 0.5,3-1,2 18,1 16.5-1-0.5-2 0.5-3-3.5-1 0.5-1 4.5-3.5 5-0.5 4,2 2,2 1,3-0.5,4 11.5,1zM1437.5,333.5l-12,3-12,0-6-1-5.5-2.5-3-2-1-3 1.5-2 11-1-0.5-4 2-4 3.5-2.5 5-0.5 4,1.5 3,3.5-2.5,1 0.5,3-1,2 13,1zM1301.5,439l-4,1-5-0.5-4-2-4-2.5-7-9-5.5-11.5-3-14-2-17 0.5-18 2-24.5 27-0.5 27,0.5 2,18.5 0.5,18-1,16-2,13-3.5,12-5,10-6,6.5zM1394.5,440l-5,1-4-0.5-5-1-4-2.5-4-3.5-4-5-6-12-3.5-15-2-17 0.5-20 2-23.5 28-0.5 27.5,0.5 3,22.5 1.5,16 0,15-1.5,12-4,12-5,10-6.5,7z"/>
<path fill="#2b47a8" fill-rule="evenodd" d="M1282,329l-1.5,3-4,2-12,1.5-7-0.5-5-1-5-3-2-2 3-3 14-1-1-3 0.5-2-4-1 2.5-2.5 4-1.5 4,1 2.5,2 1.5,3-0.5,4 8.5,1zM1437.5,331.5l-9,3.5-11,1-11-2-4-2.5-1-2.5 1.5-3 9-1-0.5-4 1-3 3-2 4-1 4,1 3,3-4,1 0.5,3-1,2 14.5,1 1,1zM1240.5,330l-5,3-6,2-7,0.5-8-0.5 0-9.5 1-0.5-1-2 0.5-3 3.5-3.5 3-1 3,0.5 2,1 2,2-4,1-0.5,5 13.5,1 3,2 0.5,1zM1300.5,425.5l-3,0.5-4-0.5-4-1.5-3-2.5-5.5-7-4.5-10-3.5-13-1.5-14 0-16 1.5-20.5 23.5-0.5 23.5,0.5 1.5,16.5 0,15-1,13-2,12-3,10-4,8-5,6zM1392.5,426l-4,1-4-0.5-4-1.5-3-2-6-7-5-10.5-3-13-2-15 0-18 1.5-18.5 23.5-0.5 24.5,0.5 2,18.5 0.5,14-0.5,13-2,12-3,10-4,8-5.5,6z"/>
<path fill="#2952b3" fill-rule="evenodd" d="M1280,329l-1,2-3.5,2-11,2-5,0-6-2-3.5-2-1.5-2 2.5-3 11.5-1 0-5-4-1 3-2 3-1 4,1 2,2 1,3-0.5,3 7,1zM1436,329l-1,2-4.5,2.5-10,1.5-6,0-6-1.5-3.5-2.5-1.5-2 2-3 7.5-1-0.5-3 1-3.5 3-2 3-0.5 3,0.5 3,2.5-4,1 0,5 12,1zM1237.5,330l-3,2.5-7,2-6,0.5-7-1 0-8.5 1.5-0.5-0.5-2 0.5-3 3.5-3 2-0.5 3,0 3,2.5-3.5,1 0,5 11.5,1 2,2zM1299.5,413.5l-3,0.5-3-0.5-5-3-5-6-4-9.5-2.5-10.5-1.5-13-0.5-14 1-16.5 20.5-0.5 20.5,0.5 1,14.5 0,13-1,12-2,10-3,9-3.5,6.5-4,5zM1391.5,414l-6,1-6-3-5.5-6.5-4-9-3-11-1.5-13-0.5-15 1-16.5 20.5-0.5 21.5,0.5 1,27.5-0.5,11-1.5,10-2.5,9-4,7.5-4,5z"/>
<path fill="#2862be" fill-rule="evenodd" d="M1235.5,330l-2.5,2-4.5,2-5,0.5-9-1.5 0-7 2.5-1-0.5-4 2-2.5 2-1.5 3,0 3,2-2.5,1 0,5 9.5,1 2,2zM1277,331l-5.5,2.5-9,1-8-1.5-3-2-1-2 1-2 1.5-1 9.5-1 0-5-3-1 3-2 3-0.5 3,1.5 1.5,2 0.5,3-0.5,2 6,1 1.5,1 0.5,2zM1434,329l-1,2-3.5,2-9,2-6-1-5-1-3-2-1-2 1-2 1.5-1 6-1-1-3 1-3 2.5-2 3-0.5 3,1 2,1.5-3,1 0,5 10,1 1.5,1zM1299.5,403l-5,0-4-2-4-4.5-4-8.5-2.5-9.5-1.5-11-0.5-12 0.5-14.5 18-0.5 18,0.5 0,22.5-2.5,19-2.5,8-3,6-3,4zM1390.5,403.5l-5,0.5-5-2.5-4.5-5-3.5-8-2.5-10-1.5-11-0.5-13 0.5-13.5 18-0.5 18.5,0.5 0.5,23.5-2,18-2.5,8-3,6-3.5,4.5z"/>
<path fill="#2a76ca" fill-rule="evenodd" d="M1431.5,331l-7,3-7,0-7.5-2-1.5-1-1.5-2 1-2 1.5-1 5-1-0.5-3 0.5-2 2-2 3-1 2,0.5 2.5,1.5-3,1 0,5 9,1 2.5,2 0,2zM1234,330l-2.5,2-4,1.5-9,0-4-1 0-6.5 3-1-0.5-3 1.5-3 2-1 3,0 2.5,1-2,1 0,5 7.5,1 2.5,2zM1276.5,329l-1,2-3,1.5-9,1.5-8-1.5-2.5-1.5-1-2 1-2 1.5-1 8.5-1 0-5-2.5-1 2-1 2-0.5 3,0.5 2,2 0.5,3-1,2 5,1 1.5,1zM1298.5,393l-4,0-4-2.5-3-4.5-3-6.5-2-8-1-9 0-21.5 30,0 0,19.5-2,15.5-2,6.5-3,5.5-3,3.5zM1389.5,393.5l-4,0.5-4-2-3.5-4.5-3-6-2-8-1.5-10 0-22.5 30.5,0 0.5,19.5-2,16-2,6-3,5.5-3,4z"/>
<path fill="#2d89d3" fill-rule="evenodd" d="M1232,331l-6.5,2.5-7-0.5-4-1.5 0-5 4-1.5-1-3 1.5-3 2.5-1 2,0.5 1.5,0.5-1.5,1 0,5 6.5,1 2,1 1,2zM1273.5,331l-6,2.5-6,0-5.5-1.5-1.5-1-1.5-2 1.5-2 1.5-1 7-1 0-5-2-1 2.5-1 2,0 2.5,1 1,2 0.5,2-1,2 4,1.5 2.5,1.5 0,2zM1431,329l-1,2-2.5,1.5-7,1.5-8.5-2-2-1-1.5-2 2-2 5-2-1-2 0.5-3 1.5-1.5 3-0.5 3.5,1-2,1 0,5 7.5,1 1.5,1zM1298.5,383l-3,0-3-1.5-3-4-2-4.5-3-14-0.5-18 25,0 0,15.5-2,13-3.5,8.5-2,2.5zM1388.5,383.5l-3,0.5-3-2-3-4-2-4.5-3-14-0.5-18.5 25.5,0 0,15.5-2,13-4,10-2,2.5z"/>
<path fill="#339ada" fill-rule="evenodd" d="M1231,331l-5.5,2.5-6-0.5-5-2 0-3.5 5-2.5-1.5-3 1.5-2 2-1 2.5,0-0.5,6 5.5,1 2,1 1,2zM1272,331l-4.5,2-6,0.5-5-1.5-2-3 1-2 2-0.5 5.5-1.5 0-5-1-1 3.5-0.5 2,1 1,1.5 0,2-1,2 6,3 0,2zM1429,331l-4.5,2-6,0.5-6-1.5-2.5-3 1.5-2 4.5-2-1-2 0.5-2.5 2-1.5 2-0.5 2.5,0.5-1,1 0,5 6,1 2,1 1,2zM1297.5,372.5l-2,0-2-1.5-2-2.5-2-4.5-2-9.5-0.5-13.5 19,0 0,11.5-2,10-2.5,6.5-2,2zM1388.5,373l-3,0-2-1.5-3.5-6-2.5-11-0.5-13.5 19.5,0 0,11.5-2,10-2.5,7z"/>
<path fill="#3aaadf" fill-rule="evenodd" d="M1256.5,331l-1.5-2 1.5-2 7-2 0-5.5 3,0 1.5,1.5 0,2-1.5,2 4.5,2 1.5,2-1.5,2-5.5,2-5,0zM1428,331l-4.5,2-5,0-5.5-2-2-2 1.5-2 4.5-2-1-2 0-2 1.5-1.5 2-0.5 1.5,0-0.5,6 7.5,2 1,2zM1230,331l-3.5,2-5,0-5.5-2-1.5-2 1.5-2 4.5-2-1.5-2 0-2 1.5-1 2-0.5 1,0.5 0,5 5,1.5 2.5,1.5 0,2zM1295.5,359l-2-2-1.5-3.5-1.5-12.5 12,0-0.5,8.5-1.5,5.5-2,3.5-1,0.5zM1387.5,360l-2,0-1-1-2-3.5-1.5-6-0.5-8.5 12.5,0-1.5,12.5-2,4.5z"/>
<path fill="#49b9da" fill-rule="evenodd" d="M1223.5,324.5l-2,0.5-1.5-1-0.5-2 1-1.5 3,0zM1260.5,332.5l-3.5-1.5-1-2 0-1 3.5-1.5 5-1.5-1,0 0-5 2,0 1.5,1 0.5,2-1,1.5-2,0.5 5.5,2 1,1 0,2-4.5,2.5zM1427,331l-3.5,2-5,0-4.5-2-1.5-2 1.5-2 4.5-2-1.5-1-0.5-2 1-2 2-0.5 1,0.5 0,5 1,1 4,0.5 2.5,1.5 0,2zM1230.5,329l-2,3-5,1-5-1-2.5-2-0.5-1 1.5-2 5.5-1.5 6,1.5z"/>
<path fill="#57c2ca" fill-rule="evenodd" d="M1223.5,323.5l-1,0.5-2-1 0.5-2 1.5,0 1,0.5zM1265.5,324l-2,0 0-3 1-0.5 1.5,0.5 0.5,2zM1420.5,324.5l-2,0-1-1.5 0-2 1-0.5 2,0zM1230,329l-1.5,2.5-5,1.5-5-1.5-2.5-2.5 2-2 4.5-1 5,0.5 2,1.5zM1270.5,329l-2,2.5-5,1.5-5-1.5-2-2.5 1-1.5 2-1 5-1 4.5,1.5zM1427.5,329l-2,3-5,1-5-1.5-2.5-2.5 2-2 4.5-1.5 6,1.5z"/>
<path fill="#65c7af" fill-rule="evenodd" d="M1269.5,329l-1.5,2-4.5,1.5-4-0.5-2-2-0.5-1 2.5-2 4-1 4.5,1zM1427,329l-1.5,2.5-5,1-4-0.5-2.5-3 2-2 4.5-1 4,1zM1229.5,329l-0.5,1-1.5,1.5-4,1-4-1-2.5-2.5 2-2 4.5-0.5 4,0.5z"/>
<path fill="#70c895" fill-rule="evenodd" d="M1229,329l-1.5,2.5-4,1-4.5-1.5-1.5-2 2-2 4-0.5 3.5,0.5zM1269,329l-1.5,2-4,1.5-4-1-2-2.5 2-2 4-0.5 3.5,0.5zM1426.5,329l-2,2.5-4,1-4-1.5-1.5-2 2-2 3.5-0.5 4,0.5z"/>
<path fill="#7bc87c" fill-rule="evenodd" d="M1228.5,329l-1.5,2-3.5,1-3.5-1-1.5-2 2-1.5 3-0.5 3,0.5zM1268.5,329l-1.5,2-3.5,1-4-1-1.5-2 2.5-2 3-0.5 3,1zM1426,329l-1.5,2-4,1-3.5-1-1.5-2 2-1.5 3-1 3.5,0.5z"/>
<path fill="#88ca68" fill-rule="evenodd" d="M1228,329l-1.5,2-3,1-3-1-1.5-2 1.5-1.5 3-0.5 3,0.5zM1268,329l-1.5,2-3,1-3.5-1-1.5-2 2-1.5 3-0.5 3,0.5zM1425.5,329l-1.5,2-3.5,1-3-1-1.5-2 1.5-1.5 3-0.5 3,0.5z"/>
<path fill="#9ed054" fill-rule="evenodd" d="M1227.5,329l-1,2-3,0.5-3-0.5-1-2 1-1 3-1 3,1zM1267.5,329l-1,1.5-3,1-3-0.5-1.5-2 1.5-1 3-1 3,1zM1425,329l-1.5,2-3,0.5-3-0.5-1-2 1-1 3-1 3,0.5z"/>
<path fill="#bad83c" fill-rule="evenodd" d="M1227,329l-0.5,1.5-3,1-3-1-0.5-1.5 0.5-1 3-0.5 2.5,0.5zM1267,329l-0.5,1.5-3,1-3-1-1-1.5 1-1 3-0.5 2.5,0.5zM1424.5,329l-1,2-3,0.5-3-1-0.5-1.5 1-1 2.5-0.5 3,0.5z"/>
<path fill="#d6df22" fill-rule="evenodd" d="M1226.5,329l-1,2-2,0-3-1-0.5-1 1.5-1 2-0.5 2,0.5zM1266.5,329l-0.5,1-2.5,1-3-0.5-0.5-1.5 1.5-1 2-0.5 2,0.5zM1417.5,329l1-1 2-0.5 3,0.5 0.5,1-0.5,1.5-3,1-2.5-1.5z"/>
<path fill="#f1e607" fill-rule="evenodd" d="M1226,329l-0.5,1.5-2,0.5-2.5-1-0.5-1 3-1 1.5,0zM1266,329l-0.5,1-2,1-2-0.5-1-1.5 1-1 2,0zM1424,329l-0.5,1-3,1-2-1-0.5-1 2.5-1 2,0z"/>
<path fill="#f8d000" fill-rule="evenodd" d="M1225.5,329l-0.5,1-1.5,0.5-2-0.5-0.5-1 2.5-1zM1265.5,329l-0.5,1-1.5,0.5-2,0-0.5-1.5 2.5-1zM1423.5,329l-1,1.5-2,0-1.5-0.5-0.5-1 2-1z"/>
<path fill="#f7b003" fill-rule="evenodd" d="M1225,329l-0.5,1-1,0.5-2-1.5 2-0.5zM1265,329l-1.5,1.5-1.5-0.5-0.5-1 2-0.5zM1423,329l-1,1-1.5,0.5-1.5-1.5 1.5-0.5z"/>
</g></g>
<g clip-path="url(#c4)"><g filter="url(#b07)">
<rect x="1439.6" y="243.2" width="224.60000000000014" height="209.10000000000002" fill="#302a7b"/>
<path fill="#2f2e85" fill-rule="evenodd" d="M1503.5,452.5l-64,0 0-159.5 5-3.5 7-2.5 8-2 9-0.5 9,1 8,2 7,3 6,4.5 4.5,5 3,6 0.5,6-1,13-10,1 0,7 13,1 0.5,6 5.5,1-1,30.5-2,29.5-3.5,26.5zM1629,452.5l-4.5-25-3.5-27-2-29-0.5-30.5 5-1 0.5-6 13.5-1 0-7-10.5-1-1-16 2-6 3-5 6-5.5 8-4.5 9-2.5 10-1 0,168zM1602,452.5l-71.5,0-4.5-25-3.5-27.5-2-28.5-1-30.5 7-3.5 8-1.5 13-1.5 19,0 19,0 13,1.5 8,1.5 6.5,3.5-1,30.5-2,29-3,27z"/>
<path fill="#2e3390" fill-rule="evenodd" d="M1494,452.5l-52.5,0-2-5.5 0-113.5 3.5-0.5 0-7-3.5-0.5 0-4.5 2.5-5 1-9 2.5-4 6-5 9-3.5 8-0.5 7,1 7,2.5 5.5,3.5 4,6 1.5,9 4,9-5,1 0,7 11.5,1 0.5,6 5.5,1-1,36.5-3.5,27-5,26.5zM1639,452.5l-6.5-21.5-5.5-25.5-3-27-1.5-37.5 6-1 0-6 12-1 0-7-5.5-1 4.5-9 1-9 3-5 3.5-3 5-2.5 6-2 6-0.5 0,158.5zM1592.5,452.5l-52.5,0-4-12-3.5-14-5-29-3-35-0.5-21.5 0.5,0 7.5-1 3.5-2 8-1.5 25-1 22,1 7,1.5 3,2 7,0.5 1.5,0.5-1.5,34.5-3,28-5,26.5z"/>
<path fill="#2c3c9c" fill-rule="evenodd" d="M1492,452.5l-48.5,0-4-10.5 0-108.5 5-0.5 0-7-2.5-1 2.5-4 6.5-6 3-8 3.5-3 6-2.5 5-0.5 4,0.5 4,1.5 3,2 2.5,3 2.5,7 6.5,6 2.5,4-3,1 0,7 11,1 0,6 8,1-1.5,32.5-3.5,31-5.5,26zM1641,452.5l-7.5-22-5.5-26-3.5-31-1-32.5 7.5-1 0-6 11-1 0-7-3-1 1-2 8.5-8 2-7 2.5-3 5-3 6-1 0,151.5zM1590.5,452.5l-48.5,0-7-22-5.5-26-3.5-31-1.5-32.5 4-0.5 9-0.5 4-2 7-1 18-1 18,1 6.5,1 4,2 9.5,0.5 3.5,0.5-1,32.5-3.5,30-5.5,27z"/>
<path fill="#2b47a8" fill-rule="evenodd" d="M1489.5,452.5l-43.5,0-6.5-16 0-102.5 6.5-1 0-7-1-1 2.5-3.5 7-3.5 12-4 6,0.5 14,6 3,2.5 1,2-1,1 0,7 10.5,1 0,6 8.5,1-1.5,33.5-3.5,30-6,26.5-4,12zM1643,452.5l-4-9.5-3.5-12-6-26-4-30.5-1.5-33.5 9-1 0-6 10.5-1 0-7-1.5-1 3.5-4 8.5-4 10-3 0,138.5zM1588,452.5l-43.5,0-4-9.5-4-12-6-27-4-30.5-1-32.5 16.5-1 4.5-1.5 6-1 14-1 14,1 6,1 4.5,1.5 16,1-1,32.5-4,31-5.5,25.5-4,12.5z"/>
<path fill="#2952b3" fill-rule="evenodd" d="M1487,452.5l-38.5,0-5-10.5-4-11 0-97 7.5-1 0-8 1.5-2 6-3 7-2 11-0.5 11,3.5 3.5,2 1,2 0.5,8 10,1 0,6 9.5,1-1.5,33.5-4.5,31-3,14-3.5,12.5-4,11zM1646,452.5l-5-9.5-4-10.5-3.5-13-3-14-4-31-1.5-33.5 9.5-1 0-6 10-1 0-8 1.5-2 2-1.5 7-3 9-1 0,135zM1585.5,452.5l-38.5,0-5.5-12.5-4-11.5-6-25-4-30-1.5-32.5 19.5-1 7-2 14-1 14,1 6.5,2 19.5,1-1.5,34.5-4.5,31-6,25-4,11z"/>
<path fill="#2862be" fill-rule="evenodd" d="M1483.5,452.5l-31.5,0-6.5-11-6-15.5 0-92 8.5-1 0-7 2-2 3.5-2.5 7-2 11-0.5 10,2.5 3,1.5 3,3 0,7 9.5,1 0,6 10,1-2,36.5-4.5,31-3.5,13-4,12-4.5,10.5zM1649,452.5l-5-8.5-4-8.5-3.5-11-4-15-3-16-2-16-2-36.5 10.5-1 0-6 9.5-1 0-7 4-4 6.5-2 8-1 0,133.5zM1582,452.5l-31.5,0-6-10-7-19-6-25-3.5-30-1-27.5 22-1 7.5-1.5 10-0.5 10,0.5 7,1.5 22,1-1.5,35.5-2,16-3,16-4,15-3.5,11-4,9z"/>
<path fill="#2a76ca" fill-rule="evenodd" d="M1479.5,452.5l-24,0-5-6.5-4-7-7-18 0-87 9.5-1 0-7 6.5-4 8-2 9,0 8,2 6,4 0,7 9,1 0,6 10.5,1 0,18.5-1.5,18-2.5,18-3,15-4,14-4.5,11-5,9.5zM1653,452.5l-6-7.5-5-9.5-4-11-4-14-3.5-16-2-17-1.5-18-0.5-18.5 10.5-1 0-6 9.5-1 0-7 4-3 5.5-2 8-1 0,132.5zM1578.5,452.5l-24,0-6-8-5-9.5-6-16.5-5.5-23-3-25-1-29.5 25-1 4.5-1 9-0.5 9,0.5 4,1 25.5,1-0.5,17.5-1.5,19-2.5,18-3,15-4,14-4.5,11-4.5,9z"/>
<path fill="#2d89d3" fill-rule="evenodd" d="M1474,452.5l-12.5,0-6-4.5-5-6.5-4-7-7-18 0-76 1.5-0.5 0-6 9-1 0-7 3-1 1.5-1.5 3-1.5 8-1.5 8,0.5 7,2 2,2 3,1 0,7 9,1 0,6 11,1-0.5,20.5-2,19-2.5,17-4,16.5-5,14.5-5,10.5-6,8zM1658.5,452.5l-6.5-5-6-8.5-5-10-5-14.5-3.5-17-3-17-1.5-19-1-20.5 11-1 0-6 9-1 0-7 3-1 2-1.5 3-1.5 9-1.5 0,132zM1572.5,452.5l-12.5,0-3.5-2.5-4-4-4-5.5-6.5-13-5.5-17.5-4.5-20.5-2.5-23-1-25.5 28.5-1 9.5-1 9,1 28.5,1-0.5,19.5-1.5,19-2.5,17-4,17-5,14.5-5,10.5-6,8.5z"/>
<path fill="#339ada" fill-rule="evenodd" d="M1467.5,449.5l-4-0.5-4-2-7-6.5-7-12-6-16.5 0-71.5 2.5-0.5 0-6 8.5-1 0-7 4-1 5-2.5 8-1 8,1 3,1 2.5,1.5 4,1 0,7 8.5,1 0,6 11.5,1-1,21.5-2,21-3.5,18-5,17.5-6,14-6,9-7,6-3,1zM1664,449.5l-4-0.5-3-1.5-7-7-6-9.5-6-14.5-4-16-3.5-19-2-20-0.5-20.5 11-1 0-6 9-1 0-7 4-1 2-1.5 3-1 7-1zM1571.5,448.5l-4,1-4,0-4-1.5-4-3-7-9-6.5-12.5-5.5-18-4-19-2.5-22-1-23.5 37.5-1 37,1-0.5,19.5-2,19-2.5,16.5-4,16.5-5,13.5-5,10-6,8z"/>
<path fill="#3aaadf" fill-rule="evenodd" d="M1467.5,445.5l-4-0.5-4-2-7-7-7-12-6-16.5 0-67 3.5-0.5 0-6 8.5-1 0-7 5-1 4-2 7-1 7,1 4.5,2 5,1 0,7 8.5,1 0,6 11.5,1-0.5,20.5-2,19-3.5,18-4.5,16-6,14-6,9-7,6-3,1.5zM1664,445.5l-4-1-3-1.5-7-6.5-6-9.5-5-12-4.5-16.5-3-18-2-19-1-20.5 11.5-1 0-6 8.5-1 0-7 5-1 4.5-2 6-1zM1571.5,444.5l-4,1-4-0.5-7-3.5-7-8-7-13.5-5-15.5-4.5-20-2.5-21-0.5-22.5 36.5-0.5 36,0.5-0.5,19.5-1.5,18-3,17.5-4,14.5-5,13-5,10-6,7z"/>
<path fill="#49b9da" fill-rule="evenodd" d="M1467.5,441.5l-4-1-4-2-4-3-4-5-7-13-5-14.5 0-62.5 4.5-0.5 0-6 8-1 0-7 6-1 4.5-2 5-0.5 5.5,0.5 4.5,2 6,1 0,7 8,1 0,6 12,1-1,20.5-2,19.5-3.5,18.5-4.5,13.5-6,13.5-6,8-6,5-3,1zM1664,441.5l-4-1-3-1.5-7-6.5-6-10-5-12-3.5-14-3.5-17-2-18-0.5-20.5 11.5-1 0-6 8.5-1 0-7 6-1 4-2 4.5-0.5zM1571.5,440.5l-4,1-4-0.5-7-3.5-7-8-6.5-12-5-15-4-18-2.5-21.5-1-22 36-0.5 35.5,0.5-0.5,18.5-2,18-2,13-4,16-5,13.5-5,9-6,7.5z"/>
<path fill="#57c2ca" fill-rule="evenodd" d="M1467.5,436.5l-4-0.5-4-2-4-3.5-4-4.5-7-13.5-5-14.5 0-57.5 5.5-0.5 0-6 7.5-1 0-7 15-2.5 15.5,2.5 0,7 7.5,1 0,6 12,1-0.5,18.5-2,18-3.5,17-4,14-5,11-6,9.5-7,5.5-3,1.5zM1664,436.5l-4-1-3-1.5-6-5-6-9-5-11.5-4-14-3.5-17-2-18-0.5-18.5 12-1 0-6 8-1 0-7 7.5-1 2.5-1 4-0.5zM1571.5,435.5l-4,1-4-0.5-7-3.5-7-8-6-11.5-5-14.5-4-18-2.5-20-0.5-19.5 35-0.5 34.5,0.5-0.5,16.5-1.5,18-2.5,14.5-4,14.5-4,10.5-5,9.5-6,7z"/>
<path fill="#65c7af" fill-rule="evenodd" d="M1469.5,430l-5-0.5-4-1.5-4-3-4-4.5-7-12-6-18 0-49.5 6.5-1 0-6 7.5-1 0-7 14-1.5 14.5,1.5 0,7 7.5,1 0,6 12,1-0.5,16.5-2,16-2.5,14-4,14-5,11.5-5,8-6,6zM1664,430l-6-2-6-4.5-6-8.5-5-10.5-4-13-3-16-2-17-1-17.5 12.5-1 0-6 7-1 0-7 13.5-1.5zM1572.5,428.5l-4,1-4,0.5-7-3-7-7.5-6-10.5-5-14-4-16.5-2-18-1-19.5 34-0.5 33.5,0.5-0.5,15.5-1.5,15-2.5,14-3,12.5-4,10.5-5,9.5-5,6z"/>
<path fill="#70c895" fill-rule="evenodd" d="M1469.5,423l-5,0-4-2-4-2.5-4-4.5-7-12.5-6-18.5 0-42 7.5-1 0-6 7-1 0-7 2.5-0.5 17,0 8,0.5 0,7 6.5,1 0,6 12.5,1-0.5,15.5-2,15-2.5,13-4,13-5,11-5,7-6,5.5zM1664,423l-6-1.5-5-4-5-6-4-7-4-10-3-10-2-12-2-13-0.5-18.5 12-1 0-6 7-1 0-7 3.5-0.5 9,0zM1572.5,422l-3,1-4,0-7-2-7-7-6-9.5-5-13-4-16-2-16-1-18.5 33-0.5 32.5,0.5-0.5,14.5-1.5,14-2.5,14-3,10.5-4,10-5,8.5-5,6z"/>
<path fill="#7bc87c" fill-rule="evenodd" d="M1469.5,416.5l-5-0.5-4-1.5-5-3.5-4-5-7-13.5-5-17 0-34.5 8.5-1 0-6 6.5-1 0-7 3-0.5 15,0 8.5,0.5 0,7 6,1 0,6 12.5,1-1,14.5-1.5,14-2.5,12-4,12-5,10-5,6.5-5,4zM1664,416.5l-5-1-5-3.5-5-5.5-4-6.5-4-9-3-10-2-10.5-2-12-0.5-17.5 12-1 0-6 6.5-1 0-7 3-0.5 9,0zM1573.5,414.5l-7,2-7-2-7-5.5-6-9.5-5-12-4-14-2-16-1-16.5 32-0.5 31.5,0.5-2,24.5-2,11-2.5,11-4,10-4,7-5,6.5z"/>
<path fill="#88ca68" fill-rule="evenodd" d="M1469.5,409.5l-5,0-5-2-4-3.5-4-4.5-4-7-3-6.5-5-18.5 0-26.5 10-1 0-6 5.5-1 0-7 2.5,0 14-0.5 8.5,0.5 0,7 6,1 0,6 12,1-0.5,14.5-2,13.5-3,12-3,8-4,8-5,6.5-5,4zM1664,410l-4-1-5-3-5-5-4-6-4-8.5-3-9-2-8-1.5-13.5-1-15 12-1 0-6 6-1 0-7 3.5-0.5 8,0zM1574.5,407.5l-4,2-3,0.5-7-1.5-7-5-6-8.5-5-11.5-4-14.5-2-14.5-0.5-13.5 30.5-0.5 30,0.5-1,21-2,11-3,10.5-3,7.5-4,7-4,5.5z"/>
<path fill="#9ed054" fill-rule="evenodd" d="M1470.5,401.5l-5,0-4-1-5-3.5-4-4.5-4-6-3-6.5-3-9.5-2-9-1-7.5 0-13 11-1 0-6 5.5-1 0-7 14.5-0.5 9,0.5 0,7 5.5,1 0,6 11.5,1-0.5,11.5-1.5,10.5-2.5,10.5-3,9-4.5,8-4,5-5,4zM1664,402l-5-1.5-5-3-4-4.5-3.5-5.5-3.5-6.5-3-9-3-17.5-1-13.5 11.5-1 0-6 5.5-1 0-7 11-0.5zM1574.5,399.5l-6,2.5-7-1-6-3.5-6-7-5-10-4-12-2-13-1-14.5 29-0.5 28.5,0.5-1.5,19.5-4,17-3,7.5-4,6.5-4,5z"/>
<path fill="#bad83c" fill-rule="evenodd" d="M1470.5,393.5l-5,0-4-1-4-2.5-4-4-4-6-3-5.5-4-14-1.5-9-0.5-10.5 11-1 0-6 5-1 0-7 13-0.5 9.5,0.5 0,7 5,1 0,6 10.5,1-0.5,10.5-1,9-2.5,9-3,7.5-4,6.5-4,5-4,3zM1664,393.5l-5-1-4-2.5-4-3.5-3-4-6-13-3.5-17-0.5-11.5 10.5-1 0-6 5-1 0-7 10.5-0.5zM1576.5,390.5l-6,3-7,0.5-6-3-6-5.5-5-8.5-4-11-2.5-11.5-1-13.5 27.5-0.5 27,0.5-1.5,16.5-3.5,14-5,11z"/>
<path fill="#d6df22" fill-rule="evenodd" d="M1470.5,385l-4,0.5-4-1-4-2-4-3.5-6-9-4-11.5-1.5-8-0.5-9.5 10-1 0-6 4.5-1 0-7 10.5-0.5 11,0.5 0,7 4.5,1 0,6 10,1-1.5,15.5-2,7-3,7-3,5-4,4.5-4,3zM1664,385.5l-4-1-4-2-4-3.5-3-3.5-5.5-11-3-13-1-10.5 10-1 0-6 4.5-1 0-7 10-0.5zM1578.5,381l-6,4-7,1-6-1.5-6-4.5-5-7-4-9-2.5-10.5-1-12.5 25.5-0.5 25,0.5-0.5,12.5-2.5,10-4,9.5z"/>
<path fill="#f1e607" fill-rule="evenodd" d="M1472.5,375.5l-4,1-4-0.5-7-3-6-6.5-5-10.5-1.5-7.5-0.5-7.5 9-1 0-6 4-1 0-7 10-0.5 10.5,0.5 0,7 4,1 0,6 9,1-1.5,12.5-4,10.5-6,7.5zM1664,376.5l-7-2-4-3-3-3-5-8.5-2.5-9.5-1-9.5 9.5-1 0-6 3.5-1 0-7 9.5-0.5zM1582.5,368.5l-6,6.5-6,3-7,0-7-3-6-6.5-4-7-3-10-1-10.5 24,0 23.5,0-0.5,8.5-1.5,7-2.5,7z"/>
<path fill="#f8d000" fill-rule="evenodd" d="M1473.5,368.5l-4,1-4,0-7-3-6-5.5-4-7.5-1.5-6.5-0.5-6 8-1 0-6 3.5-1 0-7 9.5-0.5 10,0.5 0,7 3.5,1 0,6 8,1-1.5,9.5-3,8-5,6zM1664,369.5l-7-2-5-4-5-7-2.5-8-0.5-7.5 8-1 0-6 3-1 0-7 9-0.5zM1588.5,341l-1.5,11.5-2.5,6-2.5,4-2.5,3-4,3-4,2-5,1-5-1-4-1.5-4-3.5-3-3-4.5-9-1.5-6.5 0-6z"/>
<path fill="#f7b003" fill-rule="evenodd" d="M1473.5,363l-7,1-6-1.5-6-5-3.5-6-1.5-5.5-0.5-5 6.5-1 0-6 3-1 0-7 9-0.5 9.5,0.5 0,7 3,1 0,6 6.5,1-1,7.5-3,6.5-4,4.5zM1664,364l-6-1.5-5-3.5-3.5-5.5-2.5-6.5-0.5-6 6.5-1 0-6 2.5-1 0-7 8.5-0.5zM1586.5,341l-1.5,10.5-4.5,8.5-6,5.5-4,1.5-4,0.5-4-0.5-4-1.5-6-5.5-2.5-3.5-2.5-5-1.5-10.5z"/>
<path fill="#f29110" fill-rule="evenodd" d="M1474.5,355.5l-5,1.5-6-0.5-5-2.5-4-4.5-1.5-4.5-0.5-4 4-1 0-6 2.5-1 0-7 8.5-0.5 9,0.5 0,7 2.5,1 0,6 4,1-1,5-1.5,4-3,3.5zM1664,357l-5-1-4-2.5-3-3.5-2-5-0.5-4 4.5-1 0-6 2-1 0-7 8-0.5zM1584.5,341l-1,8.5-4,7.5-6,5-7,1.5-7-1.5-6-5-4-7-1.5-9z"/>
<path fill="#ee6e1a" fill-rule="evenodd" d="M1474.5,346l-4,1.5-4,0.5-4-1-3-3-2-4 0-6 2-1 0-7 8-0.5 8.5,0.5 0,7 1.5,1 0,6-1,3zM1664,348l-3-0.5-3-1.5-1.5-2-1.5-3 0-7 1.5-1 0-7 7.5-0.5zM1583,341l-1.5,7.5-3.5,6-5.5,4-6,1-7-1.5-5-4-3.5-5.5-1.5-7.5z"/>
<path fill="#e84418" fill-rule="evenodd" d="M1476,340l-8.5,1.5-8-1.5 0.5-14 7.5-0.5 8,0.5zM1664,341.5l-7.5-1.5 0.5-14 7,0zM1580.5,341l-1,5.5-3,4.5-5,3-5,1-5-1-5-3-3-4-1.5-6z"/>
<path fill="#e53219" fill-rule="evenodd" d="M1474.5,340l-7,1-6.5-1-0.5-14 14.5,0zM1664,341l-5.5-1-1-14 6.5,0zM1578,341l-0.5,3.5-3,3-4,2-4,0.5-4-0.5-4-2-3-3-1-3.5z"/>
<path fill="#e0221a" fill-rule="evenodd" d="M1471.5,340l-8,0 0-6-2.5-1 0-7 13.5,0 0,7-3,1zM1664,340.5l-3-0.5 0-6-2.5-1 0-7 5.5,0zM1573,341l-2,3-4.5,2-5-2-1.5-3z"/>
</g></g>
<path d="M1214.3,112.4 H1437.6 M1214.3,120.6 H1437.6 M1214.3,127.7 H1437.6 M1223.5,112.4 V106.3 H1263 V112.4 M1421,112.4 V106.3 H1461 V112.4" fill="none" stroke="#15151f" stroke-width="1.3" clip-path="url(#c1)"/>
<path d="M1439.6,112.4 H1664.2 M1439.6,120.6 H1664.2 M1439.6,127.7 H1664.2 M1449.5,112.4 V106.3 H1487.3 V112.4 M1645.5,112.4 V106.3 H1685 V112.4" fill="none" stroke="#15151f" stroke-width="1.3" clip-path="url(#c2)"/>
<path d="M1214.3,325.7 H1437.6 M1214.3,333.3 H1437.6 M1214.3,340.9 H1437.6 M1223.5,325.7 V319 H1263 V325.7 M1421,325.7 V319 H1461 V325.7" fill="none" stroke="#15151f" stroke-width="1.3" clip-path="url(#c3)"/>
<path d="M1439.6,325.7 H1664.2 M1439.6,333.3 H1664.2 M1439.6,340.9 H1664.2 M1449.5,325.7 V319 H1487.3 V325.7 M1645.5,325.7 V319 H1685 V325.7" fill="none" stroke="#15151f" stroke-width="1.3" clip-path="url(#c4)"/>
<rect x="1437.4" y="30.2" width="2.2" height="422.1" fill="#fff"/>
<rect x="1214.3" y="239.8" width="450" height="3.4" fill="#fff"/>
<rect x="1667.6" y="31.5" width="29.6" height="420.2" fill="#d9d9d9"/>
<rect x="1668.6" y="32.5" width="27.6" height="418.2" fill="url(#cbarC)"/>
<text x="1704" y="109.4" font-size="19.5" fill="#1a1a1a">1</text>
<text x="1704" y="179.15" font-size="19.5" fill="#1a1a1a">0.8</text>
<text x="1704" y="248.9" font-size="19.5" fill="#1a1a1a">0.6</text>
<text x="1704" y="318.65" font-size="19.5" fill="#1a1a1a">0.4</text>
<text x="1704" y="388.4" font-size="19.5" fill="#1a1a1a">0.2</text>
<text x="1207.5" y="76.9" font-size="19.5" text-anchor="end" fill="#1a1a1a">–0.1</text>
<text x="1207.5" y="114.5" font-size="19.5" text-anchor="end" fill="#1a1a1a">0</text>
<text x="1207.5" y="153" font-size="19.5" text-anchor="end" fill="#1a1a1a">0.1</text>
<text x="1207.5" y="192.7" font-size="19.5" text-anchor="end" fill="#1a1a1a">0.2</text>
<text x="1207.5" y="231.3" font-size="19.5" text-anchor="end" fill="#1a1a1a">0.3</text>
<text x="1207.5" y="285" font-size="19.5" text-anchor="end" fill="#1a1a1a">–0.1</text>
<text x="1207.5" y="324.8" font-size="19.5" text-anchor="end" fill="#1a1a1a">0</text>
<text x="1207.5" y="363.7" font-size="19.5" text-anchor="end" fill="#1a1a1a">0.1</text>
<text x="1207.5" y="404.2" font-size="19.5" text-anchor="end" fill="#1a1a1a">0.2</text>
<text x="1207.5" y="442.7" font-size="19.5" text-anchor="end" fill="#1a1a1a">0.3</text>
<text x="1227.4" y="476.4" font-size="19.5" text-anchor="middle" fill="#1a1a1a">0</text>
<text x="1323.4" y="476.4" font-size="19.5" text-anchor="middle" fill="#1a1a1a">0.25</text>
<text x="1411.8" y="476.4" font-size="19.5" text-anchor="middle" fill="#1a1a1a">0.5</text>
<text x="1451.3" y="476.4" font-size="19.5" text-anchor="middle" fill="#1a1a1a">0</text>
<text x="1546" y="476.4" font-size="19.5" text-anchor="middle" fill="#1a1a1a">0.25</text>
<text x="1640.8" y="476.4" font-size="19.5" text-anchor="middle" fill="#1a1a1a">0.5</text>
<text x="1327.3" y="504.2" font-size="19.5" text-anchor="middle" fill="#1a1a1a">x (<tspan font-style="italic">μ</tspan>m)</text>
<text x="1555" y="504.2" font-size="19.5" text-anchor="middle" fill="#1a1a1a">x (<tspan font-style="italic">μ</tspan>m)</text>
<text transform="translate(1157,155) rotate(-90)" font-size="19.5" text-anchor="middle" fill="#1a1a1a">z (μm)</text>
<text transform="translate(1157,349) rotate(-90)" font-size="19.5" text-anchor="middle" fill="#1a1a1a">z (μm)</text>
<text x="1222.3" y="61.7" font-size="24" fill="#fff" textLength="76.7" lengthAdjust="spacingAndGlyphs">1.35eV</text>
<text x="1454.5" y="61.7" font-size="24" fill="#fff" textLength="76.2" lengthAdjust="spacingAndGlyphs">1.35eV</text>
<text x="1222.2" y="274.8" font-size="24" fill="#fff" textLength="76.9" lengthAdjust="spacingAndGlyphs">1.61eV</text>
<text x="1455.9" y="274.8" font-size="24" fill="#fff" textLength="76.1" lengthAdjust="spacingAndGlyphs">1.61eV</text>
<text x="1344.3" y="56.6" font-size="18.5" fill="#e6e6f2" font-family='"Liberation Serif", serif' textLength="84.40000000000009" lengthAdjust="spacingAndGlyphs">E<tspan font-size="8" dy="3.5">max</tspan><tspan dy="-3.5">=29.67</tspan></text>
<text x="1566.3" y="56.6" font-size="18.5" fill="#e6e6f2" font-family='"Liberation Serif", serif' textLength="88.29999999999995" lengthAdjust="spacingAndGlyphs">H<tspan font-size="8" dy="3.5">max</tspan><tspan dy="-3.5">=15.26</tspan></text>
<text x="1344.7" y="270.5" font-size="18.5" fill="#e6e6f2" font-family='"Liberation Serif", serif' textLength="83.79999999999995" lengthAdjust="spacingAndGlyphs">E<tspan font-size="8" dy="3.5">max</tspan><tspan dy="-3.5">=20.31</tspan></text>
<text x="1568" y="269.7" font-size="18.5" fill="#e6e6f2" font-family='"Liberation Serif", serif' textLength="84.59999999999991" lengthAdjust="spacingAndGlyphs">H<tspan font-size="8" dy="3.5">max</tspan><tspan dy="-3.5">=11.61</tspan></text>
<text x="1337.2" y="150" font-size="19" fill="#ececf6" font-family='"Liberation Serif", serif' textLength="92.5" lengthAdjust="spacingAndGlyphs">SiO<tspan font-size="10" dy="4">2</tspan><tspan dy="-4"> spacer</tspan></text>
<text x="1337.2" y="186.6" font-size="19" fill="#ececf6" font-family='"Liberation Serif", serif' textLength="63" lengthAdjust="spacingAndGlyphs">Ag film</text>
<text x="1326" y="223.2" font-size="19" fill="#ececf6" font-family='"Liberation Serif", serif' textLength="103.7" lengthAdjust="spacingAndGlyphs">Au nanowire</text>
<path d="M1333.2,143.9 H1313.9 V118.5 M1309.7,124.0 L1313.9,117.5 L1318.1000000000001,124.0" fill="none" stroke="#fff" stroke-width="1.7"/>
<path d="M1332.2,181.5 H1290.5 V127.7 M1286.3,133.2 L1290.5,126.7 L1294.7,133.2" fill="none" stroke="#fff" stroke-width="1.7"/>
<path d="M1319,216 H1242.8 V112.4 M1238.6,117.9 L1242.8,111.4 L1247.0,117.9" fill="none" stroke="#fff" stroke-width="1.7"/>
</g>
<g id="pD">
<text x="0.3" y="561.9" font-size="45" font-weight="bold" fill="#000" textLength="29.9" lengthAdjust="spacingAndGlyphs">D</text>
<text x="297" y="594.6" font-size="29.2" text-anchor="middle" fill="#1a1a1a">TM polarization</text>
<line x1="154.0" y1="713.0" x2="154.0" y2="661.9" stroke="#3a2a24" stroke-width="4"/><polygon points="154.0,650.0 162.0,667.0 146.0,667.0" fill="#3a2a24"/>
<line x1="152.0" y1="711.2" x2="203.1" y2="711.2" stroke="#3a2a24" stroke-width="4"/><polygon points="215.0,711.2 198.0,719.2 198.0,703.2" fill="#3a2a24"/>
<text x="123.5" y="666.5" font-size="27" fill="#1a1a1a">z</text>
<text x="207.5" y="739" font-size="27" fill="#1a1a1a">x</text>
<line x1="300.8" y1="611" x2="300.8" y2="764" stroke="#3a2a24" stroke-width="3.6" stroke-dasharray="18,15.5"/>
<line x1="395.1" y1="608.1" x2="309.2" y2="749.3" stroke="#3a2a24" stroke-width="3.6"/><polygon points="300.5,763.7 305.3,738.5 320.7,747.9" fill="#3a2a24"/>
<line x1="342.7" y1="631.7" x2="397.6" y2="665.5" stroke="#3a2a24" stroke-width="3.4"/><polygon points="407.7,671.7 389.6,668.8 396.9,656.8" fill="#3a2a24"/><polygon points="332.6,625.5 350.7,628.4 343.4,640.4" fill="#3a2a24"/>
<text x="414.5" y="692.3" font-size="26.5" font-style="italic" fill="#1a1a1a">E</text>
<text x="333.5" y="753.8" font-size="26.5" font-style="italic" fill="#1a1a1a">k</text>
<text x="273.5" y="717" font-size="27" font-style="italic" font-family='"Liberation Serif",serif' fill="#1a1a1a">θ</text>
<path d="M300.8,706.5 Q317,704 329,712.5" fill="none" stroke="#3a2a24" stroke-width="1.8"/>
<rect x="33.5" y="798.2" width="534.0" height="28.6" fill="#c8e7ea"/>
<rect x="33.5" y="827" width="534.0" height="51.5" fill="#f9e700"/>
<path d="M33.5,798.2 H567.5 M33.5,827 H567.5 M33.5,879.2 H567.5" stroke="#5a4a46" stroke-width="2.4" fill="none"/>
<rect x="64.5" y="772.3" width="95.0" height="25.9" fill="#f9e700" stroke="#5a4a46" stroke-width="2.4"/>
<rect x="251.5" y="772.3" width="94.0" height="25.9" fill="#f9e700" stroke="#5a4a46" stroke-width="2.4"/>
<rect x="438" y="772.3" width="94.5" height="25.9" fill="#f9e700" stroke="#5a4a46" stroke-width="2.4"/>
<g clip-path="url(#semclip)">
<rect x="32.5" y="899.3" width="535.2" height="171.4" fill="#84766f"/>
<rect x="32.5" y="899.3" width="535.2" height="171.4" filter="url(#noise)"/>
<g fill="none" stroke="#efe6dd" stroke-width="2.1"><ellipse cx="32.9" cy="913.9" rx="5.1" ry="5.7" transform="rotate(147 32.9 913.9)"/><ellipse cx="68.9" cy="913.0" rx="5.0" ry="5.2" transform="rotate(148 68.9 913.0)"/><ellipse cx="102.9" cy="913.5" rx="5.6" ry="5.4" transform="rotate(150 102.9 913.5)"/><ellipse cx="139.1" cy="914.3" rx="5.8" ry="6.3" transform="rotate(104 139.1 914.3)"/><ellipse cx="174.5" cy="913.3" rx="5.7" ry="5.6" transform="rotate(171 174.5 913.3)"/><ellipse cx="210.1" cy="914.0" rx="5.1" ry="5.4" transform="rotate(149 210.1 914.0)"/><ellipse cx="245.8" cy="912.8" rx="4.9" ry="5.5" transform="rotate(18 245.8 912.8)"/><ellipse cx="280.8" cy="913.5" rx="5.3" ry="6.0" transform="rotate(174 280.8 913.5)"/><ellipse cx="316.2" cy="913.2" rx="5.3" ry="5.7" transform="rotate(124 316.2 913.2)"/><ellipse cx="352.0" cy="913.1" rx="5.6" ry="5.9" transform="rotate(18 352.0 913.1)"/><ellipse cx="387.8" cy="913.4" rx="4.8" ry="6.0" transform="rotate(33 387.8 913.4)"/><ellipse cx="423.3" cy="913.9" rx="5.3" ry="5.5" transform="rotate(172 423.3 913.9)"/><ellipse cx="458.1" cy="914.1" rx="5.1" ry="6.1" transform="rotate(21 458.1 914.1)"/><ellipse cx="493.4" cy="913.7" rx="5.2" ry="5.6" transform="rotate(33 493.4 913.7)"/><ellipse cx="528.8" cy="914.1" rx="5.1" ry="5.1" transform="rotate(112 528.8 914.1)"/><ellipse cx="564.8" cy="914.0" rx="5.4" ry="5.8" transform="rotate(120 564.8 914.0)"/><ellipse cx="33.5" cy="948.4" rx="4.9" ry="6.3" transform="rotate(1 33.5 948.4)"/><ellipse cx="67.7" cy="948.8" rx="5.0" ry="6.2" transform="rotate(22 67.7 948.8)"/><ellipse cx="103.4" cy="948.5" rx="5.4" ry="5.6" transform="rotate(92 103.4 948.5)"/><ellipse cx="139.7" cy="949.1" rx="5.4" ry="6.1" transform="rotate(152 139.7 949.1)"/><ellipse cx="175.0" cy="949.4" rx="5.8" ry="5.4" transform="rotate(133 175.0 949.4)"/><ellipse cx="210.1" cy="948.3" rx="5.0" ry="6.0" transform="rotate(141 210.1 948.3)"/><ellipse cx="246.2" cy="949.2" rx="5.0" ry="5.7" transform="rotate(26 246.2 949.2)"/><ellipse cx="280.4" cy="948.4" rx="5.1" ry="6.2" transform="rotate(86 280.4 948.4)"/><ellipse cx="316.5" cy="948.5" rx="5.6" ry="5.2" transform="rotate(85 316.5 948.5)"/><ellipse cx="351.3" cy="948.6" rx="4.8" ry="5.4" transform="rotate(17 351.3 948.6)"/><ellipse cx="386.9" cy="949.4" rx="5.9" ry="5.3" transform="rotate(41 386.9 949.4)"/><ellipse cx="423.5" cy="948.6" rx="4.8" ry="5.2" transform="rotate(87 423.5 948.6)"/><ellipse cx="458.7" cy="949.5" rx="6.1" ry="5.3" transform="rotate(49 458.7 949.5)"/><ellipse cx="493.4" cy="948.1" rx="5.9" ry="5.4" transform="rotate(132 493.4 948.1)"/><ellipse cx="529.7" cy="948.1" rx="5.1" ry="5.8" transform="rotate(149 529.7 948.1)"/><ellipse cx="563.9" cy="948.6" rx="5.5" ry="5.9" transform="rotate(76 563.9 948.6)"/><ellipse cx="33.4" cy="983.3" rx="5.9" ry="6.1" transform="rotate(172 33.4 983.3)"/><ellipse cx="68.4" cy="984.7" rx="4.9" ry="6.1" transform="rotate(45 68.4 984.7)"/><ellipse cx="104.4" cy="984.2" rx="5.4" ry="5.4" transform="rotate(140 104.4 984.2)"/><ellipse cx="139.7" cy="983.2" rx="5.0" ry="6.1" transform="rotate(178 139.7 983.2)"/><ellipse cx="175.0" cy="984.1" rx="5.0" ry="5.6" transform="rotate(26 175.0 984.1)"/><ellipse cx="210.5" cy="984.4" rx="5.2" ry="5.6" transform="rotate(76 210.5 984.4)"/><ellipse cx="246.2" cy="984.3" rx="5.2" ry="6.2" transform="rotate(118 246.2 984.3)"/><ellipse cx="280.8" cy="983.3" rx="4.7" ry="5.4" transform="rotate(121 280.8 983.3)"/><ellipse cx="316.1" cy="983.9" rx="4.9" ry="6.3" transform="rotate(0 316.1 983.9)"/><ellipse cx="352.4" cy="983.2" rx="5.4" ry="5.2" transform="rotate(113 352.4 983.2)"/><ellipse cx="387.9" cy="983.6" rx="5.1" ry="5.4" transform="rotate(25 387.9 983.6)"/><ellipse cx="422.6" cy="984.1" rx="6.1" ry="5.5" transform="rotate(79 422.6 984.1)"/><ellipse cx="458.0" cy="984.4" rx="5.6" ry="5.8" transform="rotate(5 458.0 984.4)"/><ellipse cx="493.2" cy="983.5" rx="5.4" ry="5.1" transform="rotate(50 493.2 983.5)"/><ellipse cx="529.8" cy="983.5" rx="4.8" ry="5.4" transform="rotate(17 529.8 983.5)"/><ellipse cx="564.7" cy="984.2" rx="5.2" ry="5.2" transform="rotate(179 564.7 984.2)"/><ellipse cx="32.6" cy="1019.2" rx="4.9" ry="5.4" transform="rotate(140 32.6 1019.2)"/><ellipse cx="68.7" cy="1019.3" rx="5.6" ry="5.1" transform="rotate(4 68.7 1019.3)"/><ellipse cx="103.2" cy="1019.5" rx="4.7" ry="5.2" transform="rotate(177 103.2 1019.5)"/><ellipse cx="139.0" cy="1018.3" rx="5.0" ry="5.9" transform="rotate(167 139.0 1018.3)"/><ellipse cx="174.3" cy="1019.8" rx="6.1" ry="5.7" transform="rotate(97 174.3 1019.8)"/><ellipse cx="210.3" cy="1019.0" rx="5.9" ry="5.3" transform="rotate(89 210.3 1019.0)"/><ellipse cx="245.4" cy="1019.6" rx="5.8" ry="5.2" transform="rotate(44 245.4 1019.6)"/><ellipse cx="281.2" cy="1019.0" rx="5.8" ry="5.2" transform="rotate(90 281.2 1019.0)"/><ellipse cx="317.0" cy="1019.7" rx="5.0" ry="5.4" transform="rotate(138 317.0 1019.7)"/><ellipse cx="351.1" cy="1018.5" rx="5.6" ry="6.2" transform="rotate(84 351.1 1018.5)"/><ellipse cx="387.7" cy="1019.0" rx="5.4" ry="5.6" transform="rotate(46 387.7 1019.0)"/><ellipse cx="423.0" cy="1019.5" rx="6.0" ry="5.4" transform="rotate(12 423.0 1019.5)"/><ellipse cx="459.0" cy="1019.8" rx="4.8" ry="5.7" transform="rotate(29 459.0 1019.8)"/><ellipse cx="493.8" cy="1019.7" rx="5.5" ry="6.1" transform="rotate(150 493.8 1019.7)"/><ellipse cx="529.3" cy="1019.0" rx="5.6" ry="6.0" transform="rotate(82 529.3 1019.0)"/><ellipse cx="564.7" cy="1019.8" rx="5.6" ry="5.8" transform="rotate(30 564.7 1019.8)"/><ellipse cx="32.9" cy="1054.3" rx="5.9" ry="5.6" transform="rotate(168 32.9 1054.3)"/><ellipse cx="68.6" cy="1053.5" rx="5.3" ry="5.2" transform="rotate(87 68.6 1053.5)"/><ellipse cx="104.1" cy="1054.4" rx="5.3" ry="5.3" transform="rotate(24 104.1 1054.4)"/><ellipse cx="139.3" cy="1054.7" rx="5.4" ry="6.2" transform="rotate(52 139.3 1054.7)"/><ellipse cx="174.8" cy="1054.5" rx="6.0" ry="5.9" transform="rotate(176 174.8 1054.5)"/><ellipse cx="210.8" cy="1054.6" rx="4.9" ry="5.7" transform="rotate(161 210.8 1054.6)"/><ellipse cx="245.5" cy="1054.4" rx="5.5" ry="5.2" transform="rotate(29 245.5 1054.4)"/><ellipse cx="281.1" cy="1054.6" rx="5.5" ry="6.2" transform="rotate(33 281.1 1054.6)"/><ellipse cx="316.5" cy="1054.5" rx="5.3" ry="5.8" transform="rotate(135 316.5 1054.5)"/><ellipse cx="352.6" cy="1054.9" rx="4.9" ry="5.1" transform="rotate(49 352.6 1054.9)"/><ellipse cx="386.8" cy="1054.6" rx="5.5" ry="5.7" transform="rotate(54 386.8 1054.6)"/><ellipse cx="423.5" cy="1054.7" rx="5.5" ry="6.3" transform="rotate(139 423.5 1054.7)"/><ellipse cx="458.3" cy="1053.7" rx="6.0" ry="5.6" transform="rotate(99 458.3 1053.7)"/><ellipse cx="493.6" cy="1053.8" rx="5.8" ry="5.2" transform="rotate(50 493.6 1053.8)"/><ellipse cx="528.8" cy="1053.5" rx="6.1" ry="5.9" transform="rotate(137 528.8 1053.5)"/><ellipse cx="564.9" cy="1053.9" rx="5.1" ry="6.0" transform="rotate(57 564.9 1053.9)"/></g>
<g fill="#5e524e" opacity="0.7"><circle cx="270.1" cy="983.2" r="0.9"/><circle cx="49.6" cy="919.1" r="1.1"/><circle cx="235.0" cy="1004.6" r="1.4"/><circle cx="407.5" cy="909.3" r="0.8"/><circle cx="99.4" cy="1020.2" r="1.0"/><circle cx="333.8" cy="1056.5" r="1.3"/><circle cx="284.7" cy="909.3" r="1.1"/><circle cx="388.1" cy="916.7" r="0.9"/><circle cx="116.8" cy="992.5" r="1.5"/><circle cx="327.1" cy="1020.4" r="1.3"/><circle cx="202.8" cy="914.2" r="1.1"/><circle cx="105.6" cy="916.9" r="0.8"/><circle cx="351.2" cy="994.0" r="1.2"/><circle cx="405.4" cy="1028.5" r="0.9"/><circle cx="271.7" cy="918.2" r="1.4"/><circle cx="56.1" cy="1049.5" r="0.8"/><circle cx="85.1" cy="1059.6" r="0.9"/><circle cx="201.4" cy="956.2" r="1.0"/><circle cx="543.6" cy="994.4" r="1.0"/><circle cx="111.4" cy="1004.5" r="1.1"/><circle cx="300.7" cy="1060.4" r="1.3"/><circle cx="125.4" cy="1011.8" r="1.2"/><circle cx="185.7" cy="1041.9" r="1.1"/><circle cx="494.0" cy="982.2" r="0.8"/><circle cx="192.2" cy="1007.5" r="0.9"/><circle cx="455.0" cy="922.8" r="1.2"/><circle cx="396.3" cy="1009.3" r="0.8"/><circle cx="200.1" cy="912.0" r="1.4"/></g>
<rect x="497.4" y="1031.2" width="62.5" height="30.6" fill="#f1ede6"/>
<rect x="511.3" y="1037.2" width="36.3" height="3" fill="#3a2a24"/>
<text x="500.3" y="1057.7" font-size="16.3" fill="#3a2a24" textLength="54.8" lengthAdjust="spacingAndGlyphs">400 nm</text>
</g>
</g>
<g id="pE">
<text x="628.1" y="562.2" font-size="45" font-weight="bold" fill="#000" textLength="27.7" lengthAdjust="spacingAndGlyphs">E</text>
<rect x="721.5" y="590.5" width="364" height="449.5" fill="#8f8f8f"/>
<g clip-path="url(#ce)"><g filter="url(#b12)">
<rect x="725.0" y="594.0" width="356.5" height="442.5" fill="#1c1715"/>
<path fill="#2c2724" fill-rule="evenodd" d="M1081.5,1036.5l-356.5,0 0-251.5 16.5,9.5 18.5,14 39.5,19.5 39.5,16 46.5,20 7.5,2 4.5,0 1.5-2 0-1.5-8.5-7.5-50-29.5-79.5-32.5-19-8.5-5-3-2.5-3-0.5-3 1-1.5 8-3.5 34.5-8.5 21-7.5 37.5-21.5 24-12.5 28.5-6 29.5-5.5 79.5-8 40.5-7.5 19.5-10.5 19.5-18 4.5-0.5 0,323-114,0-27.5-14-19-8-16.5-2.5-4,0.5-0.5,2.5 1,1.5 6,3 35,12.5 25.5,12 114,0z"/>
<path fill="#362f2c" fill-rule="evenodd" d="M1081.5,1036.5l-356.5,0 0-249.5 13.5,7.5 21.5,15.5 38.5,19.5 83,34.5 14.5,4.5 6,0 2.5-1.5 0.5-1.5-2.5-3-6.5-6-8.5-6-47-29-45-19-22.5-10.5-11-6-2.5-3 0-1.5 4.5-2.5 18-6.5 18-8.5 33-21 27-15.5 28.5-7 29.5-5.5 79.5-8.5 40.5-7.5 19.5-10 19.5-18.5 4.5-0.5 0,316-114,0-30-15.5-17.5-7.5-21-3.5-3,1-1.5,2.5 1.5,4.5 3,3 43,14.5 25.5,11.5 114,0zM978,916.5l-1.5-1.5-6-3 6,5z"/>
<path fill="#3e3734" fill-rule="evenodd" d="M1081.5,1036.5l-356.5,0 0-248.5 10.5,6 23,16 41.5,21.5 82.5,34 15.5,4.5 5,0.5 4.5-0.5 2-1.5-1.5-3-11.5-10.5-56-37-38-17-12.5-7.5-3.5-3-1.5-3 0-1.5 2-3 13-8.5 30.5-23 29.5-18.5 25.5-6.5 28-5.5 84-9.5 40.5-7.5 19.5-10 19.5-18.5 4.5-0.5 0,310-114,0-33-17.5-14.5-6-21-4.5-7,1.5-2,1.5-1,1.5 1.5,4.5 8.5,6.5 43,13.5 25.5,12 114,0zM978.5,918l0-1.5-2-2-10.5-5.5-2,0 11,7.5z"/>
<path fill="#48403c" fill-rule="evenodd" d="M1081.5,1036.5l-356.5,0 0-247.5 9,5 23.5,16 42.5,22.5 80,33 21,6 9.5,0.5 3.5-2-2-3-10-9-12-9.5-51-35-20.5-9.5-13-7.5-3-3-1.5-4.5 0.5-3 3-4.5 11-10.5 15-12 16.5-12 13-8 25.5-7.5 26.5-6 85.5-9.5 40.5-8 19.5-10 19.5-17.5 4.5-0.5 0,304-114,0-37-19.5-12-4.5-14-3.5-8.5-0.5-9,1-3,1.5-1,3 1.5,3 1.5,1.5 13,7.5 44.5,14 24,11.5 114,0zM980.5,918l-5-4.5-14-7.5-2.5,0 17.5,12 3,0.5z"/>
<path fill="#514945" fill-rule="evenodd" d="M1081.5,1036.5l-356.5,0 0-246.5 34,21.5 42,22.5 38.5,16.5 42.5,16.5 22.5,6 6,0.5 5-0.5 2.5-1.5-2-3-20-17-39.5-28-17.5-14-16-8.5-8.5-6-2-3 0-4.5 2.5-4.5 3.5-4.5 10.5-10.5 14.5-12 15-11 6.5-2.5 23.5-7 23.5-5.5 85.5-9.5 40.5-8.5 19.5-10 19.5-17 4.5-1 0,299-114,0-37.5-20-12-4-17.5-4.5-10.5,0-13,2.5-1.5,1.5 0,1.5 1.5,3 4,3 18,9 43,13 25.5,11.5 114,0zM981,919.5l0.5-1.5-5.5-4.5-16.5-9-2.5-1-1,1 20,13.5z"/>
<path fill="#5c5450" fill-rule="evenodd" d="M1081.5,1036.5l-356.5,0 0-246 35.5,22.5 38,20.5 42,18.5 39,15 15,4.5 14.5,3 10,0 3-1.5-0.5-1.5-3-3-27-22-35-26-30-25.5-2.5-4.5 0-4.5 3.5-6 5-6 12-12 14-11 17-7 19-5.5 19-4.5 84-9.5 40.5-9 19.5-10 19.5-16.5 4.5-0.5 0,294-114,0-13.5-7-24-13-9-4-22-5-7.5-0.5-16.5,0.5-6,1.5-3,2 0.5,3 3,3 29.5,13 44.5,13 24,11.5 114,0zM983,919.5l-6.5-6-16.5-9.5-6-2.5-2,0 7,6 16.5,10.5 4,1.5z"/>
<path fill="#675f5b" fill-rule="evenodd" d="M1081.5,1036.5l-356.5,0 0-245 32,20 41.5,23 40.5,17.5 39,15 10.5,3.5 22,5 12,0.5 3-1.5 0-1.5-3-3-60-48-11.5-10.5-8-9-5.5-9-2-7.5 2.5-6 6.5-9 7-7.5 8.5-7 17.5-8 19-6 21.5-4.5 79.5-9 40.5-9.5 19.5-10.5 19.5-15.5 4.5-0.5 0,288.5-114,0-15-7.5-22.5-12.5-9-4-16.5-4-14.5-2-21,0-6,1-3,1.5-1.5,3 3,4.5 8,4.5 32,12 19.5,5 9,3.5 15,4 22.5,10.5 114,0zM984,919.5l-7.5-6.5-27-14.5-1.5,0 8,7.5 19,12 7.5,2.5z"/>
<path fill="#736b67" fill-rule="evenodd" d="M1081.5,1036.5l-356.5,0 0-244.5 31,19.5 42.5,24 40.5,17.5 40.5,15.5 10.5,3 20.5,4.5 10.5,1.5 6,0 2.5-1.5-0.5-1.5-2.5-3-16-12-40-34.5-9.5-9-7-9-3-6-1.5-4.5-1-15 2.5-6 5-7.5 5.5-5 12-7 15-6 15-4.5 14.5-3 79.5-9.5 40.5-10 19.5-10.5 19.5-15 4.5-0.5 0,284-114,0-16.5-8.5-21-12-9-3.5-16.5-4.5-14.5-2-24-1-11,1.5-3,1.5-1,3 2.5,4.5 11,6 25.5,8.5 13,5 18,4.5 9,3 13.5,3.5 24,11 114,0zM985,921l-2-3-6.5-5-30-16.5-1,0.5 8,7.5 8.5,6 14.5,8.5 6,2z"/>
<path fill="#7e7672" fill-rule="evenodd" d="M1081.5,1036.5l-356.5,0 0-243.5 30,18.5 43.5,24.5 40.5,18 39,14.5 10.5,3 26.5,6 12,2 3-0.5 3.5-1.5-1.5-3-8-6.5-13.5-10-20-18-16.5-16.5-7-9-3.5-9-0.5-12 0-16.5 0.5-3 3-4.5 7.5-6 7.5-4.5 11.5-5 13.5-4 11.5-2.5 51-5.5 28.5-4 40.5-11.5 19.5-10.5 19.5-14.5 4.5-0.5 0,279.5-114,0-18-9.5-19.5-11.5-9-3.5-20.5-5.5-36-3-29,2-5,1.5-1.5,1.5 2,3 3,1.5 15.5,4.5 14,6 17.5,5 19.5,7 20.5,5 9,3.5 13.5,3.5 24,11 114,0zM985.5,922l0.5-1-1-1.5-8.5-7-33-18.5-1.5,0 7,7.5 10.5,7.5 17,10.5 6,2z"/>
<path fill="#89817d" fill-rule="evenodd" d="M1081.5,1036.5l-356.5,0 0-243 31.5,19.5 42,23.5 40.5,18 39,14.5 9,2.5 41.5,9.5 4.5,0 4-2-1-3-7.5-6.5-18-13.5-10-10-13-13.5-6.5-10.5-1.5-4.5-0.5-6 0-36 0.5-3 2-3 5-4.5 6.5-3.5 9-4 8.5-2.5 78-10.5 10.5-2 39-12 19.5-10.5 19.5-14.5 4.5-0.5 0,274.5-114,0-17.5-9-20-12-9-3.5-22-6-28.5-4-45,0.5-28.5,2.5-6,1.5 0.5,1.5 8,3 26,6 22.5,4 56.5,18 16.5,3.5 9,3.5 12,2.5 7.5,3 18,8.5 114,0zM986,922.5l0.5-1.5-1-1.5-9-7-31.5-19-4.5-1.5-1,0.5 5.5,6 11.5,9 20,12 7.5,3z"/>
<path fill="#948c88" fill-rule="evenodd" d="M1081.5,979l-114,0-16.5-8.5-21-13-9-3.5-16.5-5-23.5-4-13.5-3.5-75-1-67.5,1.5 0-148 31.5,19.5 42,24 40.5,18 39,14 10.5,3 34,7.5 7.5,2.5 8.5-0.5 3-1.5-1.5-3-8.5-8-21-18-5.5-7-3-6-0.5-7.5 0.5-58.5 1-3 3.5-3 8.5-3.5 49.5-6.5 21-4 16.5-4.5 36-13.5 19.5-11 19.5-13.5 4.5-1zM987,922.5l-1.5-3.5-9-7-33-20-4.5-2-1.5,0 0,1 3.5,4.5 14.5,12 21,12.5 9,3zM1081.5,1036.5l-356.5,0 0-83.5 20,2.5 67,5.5 31.5,4 24,7 13.5,3 23.5,7.5 16.5,4 9,3 13.5,3 6,2.5 18,8.5 114,0z"/>
<path fill="#9e9793" fill-rule="evenodd" d="M1081.5,978.5l-114,0-18-9.5-7.5-5.5-12-7-9-3.5-16.5-5-24.5-6-4.5-3-6.5-7-3-1.5-54-7-87-2 0-127 28.5,17.5 45,26 40.5,18.5 39,14 10.5,3 35.5,7.5 9,3.5 10.5-1 2.5-1.5 0-1.5-6.5-9-0.5-3 47.5-88.5 13-19.5 3.5-3 7-4.5 28-14 39-24.5 4.5-1zM988,922.5l-2.5-4-9-7-31.5-19.5-9-4-0.5,1.5 3,4.5 17,14 21,12.5 9,3zM1081.5,1036.5l-356.5,0 0-76.5 87,4 31.5,3.5 37.5,9 23.5,7 16.5,3.5 9,3.5 12,2.5 7.5,2.5 18,9 114,0z"/>
<path fill="#a8a19e" fill-rule="evenodd" d="M1081.5,978l-114,0-16.5-9-9-6-12-7.5-9-3.5-28-8.5-7.5-3-3-3-4.5-7.5-3-4-7.5-4-55.5-8-87-2 0-117 27,17 46.5,27 40.5,18 40.5,14.5 43,9.5 4.5,2 5.5,3.5 2.5,4.5 4.5,4.5 16,13 21,12 10.5,3.5 1.5-1.5-0.5-1.5-4.5-4.5-7-5-37-23.5-1-1.5 9.5-1 3-2 0.5-6 51-96 6.5-10.5 8-10.5 5.5-6 8.5-6 38.5-25 7.5-4 4.5-1zM1081.5,1036.5l-356.5,0 0-72.5 87,3 31.5,3 46.5,10 14.5,4.5 16.5,3.5 9,3 12,2.5 7.5,2.5 18,9 114,0z"/>
<path fill="#b3aca9" fill-rule="evenodd" d="M1081.5,977l-114,0-15-8-12-8-10.5-6.5-31-11-7-3-3.5-3-5-9-3.5-4.5-5-4.5-6-2.5-55.5-8.5-88.5-2 0-110.5 73.5,43.5 40.5,18.5 40.5,14 46,11 5.5,3.5 3,4.5 5,5 15,12 22.5,13 10.5,3.5 1.5-0.5 0.5-1.5-3.5-5-39-26.5-3.5-3 9.5,0 3-1 2-2 55.5-103.5 5.5-9 7-9 9.5-10.5 13-10.5 20-13 13.5-6zM1081.5,1036.5l-356.5,0 0-68.5 87,2.5 33,3.5 22.5,4 21.5,3 15.5,4.5 16.5,3.5 9,3 18,4 19.5,9.5 114,0z"/>
<path fill="#bdb7b4" fill-rule="evenodd" d="M1081.5,976.5l-114,0-16.5-9-9-7-12-7-19-7-13-6-3.5-3-6-10.5-4.5-5.5-7.5-6-6-2.5-57-9-88.5-2.5 0-105 73.5,44 40.5,18.5 40.5,14 41.5,9 4.5,1.5 4.5,3 9,10.5 15,11.5 22.5,12.5 10.5,4 2.5-1 0-1.5-3-4.5-25-18-5-4.5-0.5-1.5 5.5-3 3.5-4.5 55.5-105 8-12 11-12.5 13-11.5 14-9.5 15-6.5zM1081.5,1036.5l-356.5,0 0-64.5 87,2 73.5,8 35.5,7.5 9,3.5 15,3 22.5,10.5 114,0z"/>
<path fill="#c8c2bf" fill-rule="evenodd" d="M1081.5,975.5l-114,0-15-8-10.5-8-12-7.5-18.5-7-8.5-4.5-4.5-4.5-6-10.5-5.5-6-7.5-6-7.5-4-60-9.5-87-3 0-99.5 75,44.5 39,18 40.5,13.5 45,10 4,3 10.5,11.5 13.5,10 24,13.5 9,4 3,0 1.5-1.5-1.5-4.5-3-3-18.5-13.5-2.5-3-0.5-1.5 8-13.5 54.5-102 6.5-10.5 10-12 13-12 13.5-8.5 12-5.5zM1081.5,1036.5l-356.5,0 0-60 87,2 78,5.5 31,6.5 9,3 17.5,4 20,9.5 114,0z"/>
<path fill="#d2cdcb" fill-rule="evenodd" d="M1081.5,975l-114,0-13-7.5-14-11-7.5-5-20-8-5-3-4.5-4.5-6-10.5-6-7.5-9-7-9-4.5-7.5-2-54-8.5-87-3.5 0-94.5 73.5,44 40.5,19 40.5,13.5 44.5,9.5 3.5,2.5 10,11.5 13.5,10 25.5,14 9,4 3,0 1.5-0.5 0.5-1.5-1.5-4.5-18.5-15-2-3 0.5-1.5 7.5-12.5 55.5-104.5 5.5-9 10-12 11.5-10 12-8 10.5-4.5zM1081.5,1036.5l-356.5,0 0-56.5 87,1.5 78,4 31,6 9,3 15,3 4.5,1.5 18,9 114,0z"/>
<path fill="#dcd9d7" fill-rule="evenodd" d="M1081.5,974l-114,0-7-3.5-12-9-6.5-6.5-6-4.5-6-3-14-5.5-4-2.5-3-3.5-8.5-13.5-5.5-6-9.5-7.5-10.5-5.5-9-2.5-54-9-87-4 0-89 75,45 39,18 40.5,13.5 33.5,6.5 11,3 12,14 10.5,8 31.5,16 7.5,3.5 3,0.5 2.5-1.5-0.5-4.5-5-5.5-11.5-9.5-1-1.5 0.5-2.5 68.5-126.5 8.5-10.5 10-9 12-8 9-3zM1081.5,1036.5l-356.5,0 0-53.5 87,1 79.5,3 29.5,5.5 9,3.5 16.5,3 21,10 114,0z"/>
<path fill="#e6e4e3" fill-rule="evenodd" d="M1081.5,972.5l-114,0-7.5-3.5-7.5-6-4-4.5-5-8.5-3-3-4.5-2.5-12-4-6-3-4.5-4.5-10-13.5-6-6.5-10.5-7.5-12-6.5-63-11.5-87-5.5 0-81.5 75,45 42,19.5 37.5,12 29,5 11.5,3 4,3 3.5,6 6.5,7.5 9.5,7.5 7.5,4 15,5 18,8.5 6,1 2-2-1-4.5-4-4.5-8.5-7.5-1.5-3 69-129 8.5-10.5 10.5-9 10.5-6 6-0.5zM1081.5,1036.5l-356.5,0 0-50.5 87,0.5 54,2 25.5,0.5 28,5 10.5,3 18,3.5 19.5,9.5 114,0z"/>
<path fill="#f1efee" fill-rule="evenodd" d="M1081.5,971.5l-114,0-7-4-5-4.5-2-4.5-2-9-2-3.5-3-3.5-6-3.5-13.5-5-6-3.5-6-5.5-10.5-11.5-7-7-9-6-12-6-6-1.5-58.5-10-87-8 0-72.5 76.5,45.5 39,18 39,12.5 29.5,5 5,1.5 4,3 4.5,7.5 5.5,6 8,7 7.5,5 10.5,4.5 15.5,3 16,6.5 4.5,1 1.5-0.5 1-2.5-1-4.5-2-3-7.5-7.5-0.5-3 66-124.5 7.5-10.5 10-9.5 9-5 7.5,0zM1081.5,1036.5l-356.5,0 0-47.5 87,0.5 82.5,2 26.5,4.5 9,2.5 18,3.5 19.5,9.5 114,0z"/>
<path fill="#fbfbfa" fill-rule="evenodd" d="M964,967.5l-3.5-3-1.5-3 0.5-12-2-4.5-2-3-9-7.5-17-7.5-8.5-6-22.5-25.5-2.5-4.5 3-1 7,1 20,16.5 14.5,10 9,4.5 12,3.5 13.5-0.5 12,4.5 4.5,0.5 1.5-3-0.5-6-6.5-9 0.5-3 66.5-126 6-8.5 7.5-6.5 3-1.5 12,0 0,202.5-114,0zM866,882l-7.5,1-14-1-31-5.5-42-5-46.5-7.5 0-35.5 49.5,12.5 11.5,3.5 27,12 26,13 22,8 5,3zM1081.5,1036.5l-356.5,0 0-43.5 87,0.5 85.5,1.5 20,2.5 12.5,3.5 15.5,2.5 4.5,1.5 17.5,8.5 114,0z"/>
</g></g>
<polygon points="1081.5,746 1081.5,1036.5 926.5,1036.5" fill="#1c1715"/>
<path d="M903.7,594 v6 M993,594 v6 M903.7,1036.5 v-7 M993.5,1036.5 v-6 M725,710.7 h6 M725,829.3 h5 M725,948 h5 M1081.5,829.8 h-6 M1081.5,948 h-6 M814.3,1036.5 v-5" stroke="#8f8f8f" stroke-width="2" fill="none"/>
<line x1="726" y1="944.3" x2="1081" y2="944.3" stroke="#fff" stroke-width="3.2" stroke-dasharray="5.5,4"/>
<path d="M725.0,794.5 C731.7,797.2 753.5,805.8 765.4,811.0 C777.3,816.2 786.1,820.3 796.5,826.0 C806.9,831.7 817.2,838.0 827.6,845.0 C838.0,852.0 848.3,859.9 858.7,868.0 C869.1,876.1 882.8,887.6 889.8,893.5 C896.8,899.4 895.2,898.9 900.4,903.5 C905.6,908.1 914.0,914.9 921.0,921.0 C928.0,927.1 935.5,933.4 942.4,940.2 C949.3,947.0 953.5,952.9 962.6,962.0 C971.7,971.1 988.0,985.7 996.9,995.0 C1005.8,1004.3 1010.3,1010.8 1016.0,1018.0 C1021.7,1025.2 1028.5,1034.7 1031.0,1038.0" fill="none" stroke="#e3141c" stroke-width="3.2" stroke-dasharray="5.5,4.5" clip-path="url(#ce)"/>
<circle cx="807.6" cy="822" r="10.3" fill="none" stroke="#1c9ad6" stroke-width="3.2"/>
<circle cx="808" cy="946.3" r="10.3" fill="none" stroke="#1c9ad6" stroke-width="3.2"/>
<circle cx="942.4" cy="897.3" r="10.3" fill="none" stroke="#1c9ad6" stroke-width="3.2"/>
<circle cx="940.9" cy="979" r="10.3" fill="none" stroke="#1c9ad6" stroke-width="3.2"/>
<rect x="1050.5" y="915.3" width="21.8" height="109.6" fill="url(#cbarE)" stroke="#fff" stroke-width="2"/>
<text x="1040.5" y="929.3" font-size="26" text-anchor="end" fill="#ebe7e3">0.9</text>
<text x="1040.5" y="982.2" font-size="26" text-anchor="end" fill="#ebe7e3">R</text>
<text x="1040.5" y="1027.3" font-size="26" text-anchor="end" fill="#ebe7e3">0</text>
<text x="740.7" y="636.8" font-size="26" fill="#ebe7e3" textLength="119.5" lengthAdjust="spacingAndGlyphs"><tspan font-style="italic">t</tspan> = 60 nm</text>
<text x="960.5" y="636.3" font-size="28" font-weight="bold" fill="#fff" textLength="97" lengthAdjust="spacingAndGlyphs">Theory</text>
<text x="1022" y="688.3" font-size="28" font-weight="bold" fill="#fff" textLength="41" lengthAdjust="spacingAndGlyphs">TM</text>
<text x="746.4" y="779.4" font-size="28" fill="#ebe7e3" textLength="74" lengthAdjust="spacingAndGlyphs">(-1,0)</text>
<text x="821.5" y="792.5" font-size="16.5" fill="#ebe7e3">TM<tspan font-size="10" dy="3">0</tspan></text>
<text x="735.3" y="930.8" font-size="28.5" fill="#fff">LSP</text>
<text x="778" y="867" font-size="25.5" fill="#221c1a">(i)</text>
<text x="765.4" y="983.6" font-size="25.5" fill="#221c1a">(iii)</text>
<text x="961.2" y="868.7" font-size="25.5" fill="#221c1a">(ii)</text>
<text x="888.5" y="1008" font-size="25.5" fill="#221c1a">(iv)</text>
<text x="710.6" y="606.3" font-size="27.3" text-anchor="end" fill="#1a1a1a">2.8</text>
<text x="710.6" y="718" font-size="27.3" text-anchor="end" fill="#1a1a1a">2.4</text>
<text x="710.6" y="841.8" font-size="27.3" text-anchor="end" fill="#1a1a1a">2</text>
<text x="710.6" y="959" font-size="27.3" text-anchor="end" fill="#1a1a1a">1.6</text>
<text x="729.7" y="1069.6" font-size="27.3" text-anchor="middle" fill="#1a1a1a">0</text>
<text x="902.6" y="1069.6" font-size="27.3" text-anchor="middle" fill="#1a1a1a">5</text>
<text x="1076.2" y="1069.6" font-size="27.3" text-anchor="middle" fill="#1a1a1a">10</text>
<text transform="translate(653.2,940) rotate(-90)" font-size="28.6" fill="#1a1a1a" textLength="249" lengthAdjust="spacingAndGlyphs">Photon energy (eV)</text>
<text x="857" y="1118.5" font-size="28" fill="#1a1a1a" textLength="116" lengthAdjust="spacingAndGlyphs"><tspan font-style="italic">K</tspan><tspan font-size="15" dy="6">||</tspan><tspan dy="-6"> (μm</tspan><tspan font-size="16" dy="-10">–1</tspan><tspan dy="10">)</tspan></text>
</g>
<g id="pF">
<text x="1137.6" y="562.2" font-size="45" font-weight="bold" fill="#000" textLength="28.0" lengthAdjust="spacingAndGlyphs">F</text>
<g clip-path="url(#cf00)"><g filter="url(#b07)">
<rect x="1182.4" y="573.1" width="241.0" height="249.2" fill="#42285f"/>
<path fill="#3c2d73" fill-rule="evenodd" d="M1423.5,787.5l-28,1.5-52,6-32,2-21-0.5-58-4.5-50-1 0-218 241,0z"/>
<path fill="#373485" fill-rule="evenodd" d="M1423.5,786l-28,1-53,5.5-31,2-22-0.5-57-4-50-1 0-216 241,0z"/>
<path fill="#313e9b" fill-rule="evenodd" d="M1423.5,784.5l-27,1-53,4.5-32,2-22-0.5-57-3.5-50-1 0-214 241,0z"/>
<path fill="#324caa" fill-rule="evenodd" d="M1423.5,783l-28,1-52,4-32,1.5-22-0.5-57-3-50-0.5 0-212.5 241,0z"/>
<path fill="#345cb6" fill-rule="evenodd" d="M1423.5,781.5l-27,1-53,3.5-32,1-79-3-50-0.5 0-210.5 241,0zM1214.5,635.5l0-3.5-3-5-5-4-2-0.5-2,0.5-0.5,2 0.5,2 3.5,5 5.5,4z"/>
<path fill="#346dc3" fill-rule="evenodd" d="M1423.5,780.5l-112,4.5-79-2.5-50-0.5 0-209 241,0zM1220.5,643l1.5-3-0.5-5-2.5-6-4.5-6-5-4.5-6-4-5-1-3,0.5-2,3 0,4 3,6 5,7 5,5 6,4 5,1z"/>
<path fill="#3281cf" fill-rule="evenodd" d="M1423.5,779l-112,4-79-2-50-0.5 0-207.5 202,0 6.5,9 9.5,7.5 11,4.5 12,1.5zM1225.5,647.5l2-4.5-1-6-4-9-5.5-8-8.5-8-8-5-7-2.5-3,0.5-2,1-2,5 1,8 4.5,8 6,8 7.5,7.5 8,5 7,2 3-0.5z"/>
<path fill="#3093d9" fill-rule="evenodd" d="M1423.5,778l-112,3-129-2 0-159.5 6.5,9.5 7.5,9 8,7 8,5.5 8,3 6,0 4-3 1-5.5-1-7-3-8-5-9-6-7-10-10.5-11-9-8-4.5-5-1 0-16 181.5,0 4.5,8 6,7 6.5,6 7.5,5.5 8,4.5 9,3 9,2 9,1z"/>
<path fill="#30a1de" fill-rule="evenodd" d="M1423.5,776.5l-112,2.5-129-1.5 0-150.5 16,17 8,6 7,4.5 7,3 6,0.5 5-1 3-3 1.5-4 0-4-3-12-6-13-13-20-3-8 0.5-4 2-4 10-12 118.5,0 8,11 9.5,10 10,9 10,7 11,5.5 11,4 9,2 13,1z"/>
<path fill="#38adda" fill-rule="evenodd" d="M1423.5,775.5l-112,1.5-129-1 0-142.5 17,15.5 15,9.5 7,3 6,1 5-0.5 3.5-2 2.5-2 1.5-4 0.5-9-3-11-9-24-0.5-4 0.5-4 2-4 5-4.5 19-13.5 11-7 41.5,0 13.5,9 33,27 17.5,12 13.5,5 13,3.5 13,2 13,1z"/>
<path fill="#48b7ce" fill-rule="evenodd" d="M1423.5,774.5l-112,0.5-129,0 0-135.5 19,15 14,8 12,3.5 5,0.5 5-1.5 5-4 2-4 0.5-4 0-8-3.5-20 0-8 2-4.5 7-5.5 15-7.5 12-3.5 11-1 11,1.5 12,4 13,7 20.5,13.5 28.5,12 12,4 13,2.5 25,2.5z"/>
<path fill="#5abdba" fill-rule="evenodd" d="M1423.5,774l-241,0 0-127 22,14 13,6.5 12,2.5 10-0.5 3.5-1.5 2.5-1.5 4-6.5 1-7 0.5-18 1.5-3.5 2-2.5 5-3 8-2.5 16-2.5 8-0.5 15,1.5 13,3 43,16.5 20,6 20,3.5 21,2z"/>
<path fill="#6ebf9e" fill-rule="evenodd" d="M1423.5,774l-241,0 0-114.5 9,2.5 14,6 15,4.5 11,2 9-0.5 7-2 7-4 3-5 5.5-12 4.5-5 5-2 7-1.5 17-1 11,1 11,2.5 41.5,12 22.5,5.5 20,3 21,1.5z"/>
<path fill="#7ec284" fill-rule="evenodd" d="M1423.5,774l-241,0 0-100 17,0.5 27,4 12,0.5 12-2 22-8 11-1.5 11,0 47,2 54,6 28,1zM1347.5,739l0-19-90,0 0,19.5z"/>
<path fill="#8ac66c" fill-rule="evenodd" d="M1423.5,773.5l-241,0 0-90.5 25-0.5 30,1 11-1.5 27-4.5 62-0.5 22,1.5 41,5.5 23,1zM1347.5,739l0-19-90,0 0,19.5z"/>
<path fill="#9ecc50" fill-rule="evenodd" d="M1423.5,773.5l-241,0 0-80.5 17-1 67-7 10,0 28,1.5 40-3 19,1.5 38,7.5 22,1.5zM1347.5,739l0-19-90.5,0 0.5,19.5z"/>
<path fill="#bad430" fill-rule="evenodd" d="M1423.5,773.5l-241,0 0-72 21-2 31-6 20-2.5 15,0 23,3.5 11,0.5 11-0.5 22-4 11-1 15,1.5 38,9 23,2zM1348,739l-0.5-19-90.5,0 0.5,20z"/>
<path fill="#d4dc18" fill-rule="evenodd" d="M1423.5,740l-65,0 1,11.5 7,22-112,0 5-15.5 0.5-4-1-2-6.5-3.5-2.5-2.5-1.5-3-0.5-3-65.5-0.5 0-28.5 10-1 14-3 30-9 14-2.5 9-0.5 8,0.5 25,5.5 10,1 10-1 27-6 8-0.5 8,0.5 12,2.5 24,8 15,4 17,2.5zM1348,739l-0.5-19-52-0.5-38.5,0.5 0.5,20 90,0z"/>
<path fill="#ece408" fill-rule="evenodd" d="M1423.5,739.5l-70.5,0.5-0.5,13 5,20.5-94.5,0 5.5-20.5 1-10 1.5-3 76.5,0 0.5-1-0.5-19-90,0-0.5,19 0.5,1 8,0 1,1-1,3-4,1.5-5-1.5-1.5-2 0-2-72.5-0.5 0-11 5-2 4-3.5 8-2 7-3 17-11 13-5.5 10-2.5 10-1 9,0.5 8,2 19,6.5 10,1.5 11-1.5 24-8 13-1.5 10,1.5 10,3.5 12.5,5.5 16.5,11 12.5,4 5.5,4 6,2.5z"/>
<path fill="#f8d804" fill-rule="evenodd" d="M1217,733l0-10 9-10 5.5-5 11-5 7-1.5 11-0.5 11,2.5 10,4.5 11,8 6.5,3-41.5,0.5-1,20.5-38-1zM1387.5,723l0.5,8-2,8-36,1 0,3-2,7 0,3 4.5,20.5-84.5,0 8.5-33.5 71,0 0.5-1-0.5-19.5-41.5-0.5 6.5-3 10.5-8 8.5-4 8-2.5 7-1 7,0.5 8,1.5 11.5,5.5 6.5,6z"/>
<path fill="#f8b80c" fill-rule="evenodd" d="M1378,728l-2,6-3,5-24.5,1-0.5-20-0.5-0.5-27-0.5 6.5-8 6.5-4 10-3.5 10,0 10,3 6.5,4.5 4,5 4,6zM1231.5,739l-4-8-1-8 3.5-6 5-6 3.5-3 6-2.5 11-2 6,0 6,1.5 6,3 3,2 8,9-27,0.5-0.5,0.5-0.5,20zM1348,773.5l-75,0 7-33.5 67,0 0,3-2.5,6-0.5,4z"/>
<path fill="#f69614" fill-rule="evenodd" d="M1240,739l-5.5-7-1.5-4-0.5-5 2-5 2.5-4 7.5-5.5 10-3 10,1.5 7.5,4 6.5,8-21,0.5-1,0.5 0,19.5zM1372,727l-2.5,7-4.5,5-16.5,0.5-0.5-19.5-0.5-0.5-21-0.5 4-6 6.5-5 8.5-2 8,0 7,2 6,5 5,8 1,2zM1343,773.5l-65.5,0 6.5-33.5 58.5,0 0.5,3-3,5-0.5,4z"/>
<path fill="#f2721c" fill-rule="evenodd" d="M1246.5,739l-6-5-3.5-7-0.5-5 3.5-7 6-5 7.5-2 8,0.5 7.5,3.5 5.5,7-17,0.5-1,0.5 0,19.5zM1364.5,734l-6,5-10,0.5-0.5-19.5-0.5-0.5-17-0.5 4-6 7-4 8-1.5 7,1.5 7,5 3,4 1.5,4-0.5,6zM1338,773.5l-55,0 5.5-33.5 45.5,0 1,3-0.5,10z"/>
<path fill="#ec521e" fill-rule="evenodd" d="M1256.5,738.5l-6-1-5.5-3.5-4-5-1.5-6 2-5 4-4.5 5-2.5 5-1 5,0.5 4,1.5 4,3 2.5,4-13.5,0.5-1,0.5zM1352.5,738l-4,0.5-0.5-18.5-0.5-0.5-14-0.5 4-5 6-3 7-1 6,2 5,3.5 3,5.5 0.5,5-2.5,5.5-4,4zM1327,773.5l-33,0 3-33.5 27,0z"/>
<path fill="#e4361a" fill-rule="evenodd" d="M1256.5,736l-5-1-5-3-3-4-1.5-5 1.5-4 3.5-4 3.5-2 5-1 4,0.5 4,1.5 5,5-11,0.5-1,0.5zM1356.5,733.5l-4,2-4,0.5-0.5-16-0.5-0.5-11-0.5 2-3 5-3 5-1 6,1 4.5,3 2.5,4 1,4-2,6z"/>
<path fill="#cb2518" fill-rule="evenodd" d="M1256.5,733.5l-4-0.5-4-2.5-2.5-3.5-1-4 1-3 2.5-3 3-2 4-1 6,1.5 4,3.5-8,0.5-1,0.5zM1352.5,733l-4,0.5 0-13.5-1-0.5-8-0.5 4-3.5 4-1.5 5,0.5 4,2.5 2.5,3 1,3-1,4-2.5,3.5z"/>
<path fill="#a11f18" fill-rule="evenodd" d="M1256.5,730.5l-3-0.5-3-1.5-2-2.5-1-3 3-4.5 5-2 3.5,0.5 3,2-4.5,0.5-1,0.5zM1352.5,730l-4,0.5 0-10.5-1-0.5-5-0.5 5-2.5 3,0 3,1.5 2.5,2 1,3-0.5,2-2,3z"/>
</g></g>
<path d="M1182.4,740.1 H1423.4 M1182.4,773.5 H1423.4" stroke="#fff" stroke-width="2.3" stroke-dasharray="3.6,2.8" fill="none"/>
<path d="M1257.0,740.1 V720.1 H1347.7 V740.1" stroke="#fff" stroke-width="2.3" stroke-dasharray="3.6,2.8" fill="none"/>
<path d="M1195.0,783.1 V812.8 H1226.4" stroke="#fff" stroke-width="1.8" fill="none"/>
<polygon points="1195.0,779.6 1191.4,787.1 1198.6,787.1" fill="#fff"/>
<polygon points="1231.4,812.8 1223.9,809.1999999999999 1223.9,816.4" fill="#fff"/>
<text x="1202.9" y="792.7" font-size="29.5" font-weight="bold" fill="#fff">z</text>
<text x="1231.2" y="820.3" font-size="29.5" font-weight="bold" fill="#fff">x</text>
<text x="1190.9" y="609.1" font-size="28" fill="#fff">(i)</text>
<text x="1283.9" y="614.4" font-size="31" fill="#fff">|E|<tspan font-size="17" dy="-17" dx="1">2</tspan></text>
<g clip-path="url(#cf10)"><g filter="url(#b07)">
<rect x="1434.6" y="573.1" width="241.0" height="249.2" fill="#42285f"/>
<path fill="#3c2d73" fill-rule="evenodd" d="M1675.5,774l-62,0.5-8.5,5-11.5,3-16,1.5-23,1-23-1-16-1.5-11-3-8.5-5-61.5-0.5 0-201 241,0z"/>
<path fill="#373485" fill-rule="evenodd" d="M1675.5,773.5l-73.5,1-8.5,4-10,2.5-13,1.5-16,0.5-16-0.5-13-1.5-10-2.5-8-4-73-1 0-200.5 241,0z"/>
<path fill="#313e9b" fill-rule="evenodd" d="M1675.5,773.5l-82,1-7,3-9,2-11,1.5-12,0.5-12-0.5-11-1.5-8.5-2-7.5-3-81-1 0-200.5 241,0z"/>
<path fill="#324caa" fill-rule="evenodd" d="M1657,773.5l-70.5,1-14,3.5-18,1.5-18-1.5-13.5-3.5-70.5-1-3.5-33.5-14.5,0 0-167 241,0 0,167-15.5,0zM1552.5,663l2-2 1-3 1.5-9-5-26-3.5-6-2-1-1.5,2-1,5 0.5,27 4,9.5 2,3z"/>
<path fill="#345cb6" fill-rule="evenodd" d="M1675.5,740l-26.5,0-1.5,33.5-68,1-12,2.5-13,1-13-1-11.5-2.5-68-1-2-33.5-25.5,0 0-167 104.5,0-1,14-0.5,32 2,30 8,22.5 3,4 3,2 2-0.5 2.5-4 2-11 1.5-13-3-23.5-2-11-6-26-4.5-15.5 129.5,0zM1552.5,766l1-0.5 1-2-0.5-2-1.5-1-2,0.5-0.5,2.5 0.5,2z"/>
<path fill="#346dc3" fill-rule="evenodd" d="M1675.5,740l-31,0-2,33.5-71,1-17,1.5-17-1.5-71-1-2-33.5-30,0 0-167 96.5,0 2,50 3,27 8.5,23 6,10 4,1.5 3.5-1.5 4-10 3-23-2.5-27-8.5-50 121.5,0zM1552.5,767l2.5-1.5 0-3-1.5-3-2-0.5-2,2.5 0,3 1,2z"/>
<path fill="#3281cf" fill-rule="evenodd" d="M1675.5,740l-34.5,0-2,33.5-84.5,1-84.5-1-2-33.5-33.5,0 0-167 91.5,0 3,50 4,27 6.5,19 5,10.5 5,6.5 3,2 3,1 2-1 3-3 3-6.5 2.5-9.5 2-19-2-27-7-50 116.5,0zM1552.5,768l2.5-1.5 1-4-1.5-3.5-3-1-2.5,2.5-0.5,4 1.5,3z"/>
<path fill="#3093d9" fill-rule="evenodd" d="M1675.5,740l-37.5,0-2,33.5-75.5,0.5-87.5-0.5-2-33.5-36.5,0 0-167 87.5,0 3,50 4.5,27 7,20 7,12 7,8.5 5,2.5 4-2 5.5-8 3-11 3-22-1.5-28-6.5-49 112.5,0zM1552.5,769l3-2 1-4.5-2-4.5-3-0.5-3,2.5-0.5,4.5 1.5,3.5z"/>
<path fill="#30a1de" fill-rule="evenodd" d="M1675.5,740l-40,0-2.5,33.5-70.5,0.5-86.5-0.5-2.5-33.5-39,0 0-167 83,0 3.5,50 2,16 3,12 7.5,19 8,13 10,11.5 3,2 2,0.5 2-1 3-3.5 6-10.5 3.5-11 3-21-1-29-5.5-48 108,0zM1552.5,770l3-1.5 2-5-1.5-5.5-3.5-1.5-2,0-2,1.5-1.5,5.5 2,5 1.5,1z"/>
<path fill="#38adda" fill-rule="evenodd" d="M1675.5,739.5l-42.5,0.5-2.5,33.5-65,0.5-86.5-0.5-3-33.5-41.5-0.5 0-166.5 78,0 4,54 2.5,15 2.5,10 7.5,17 9.5,14 13,14.5 5,2 3-1 1.5-1.5 8.5-14 4.5-11 3-18 1-13-0.5-18-5-50 103,0zM1552.5,771l2-0.5 2-2 1.5-5-1.5-5.5-2-2-2-0.5-2,0.5-2,1-1.5,3.5-0.5,3 0.5,3 1.5,3 2,1z"/>
<path fill="#48b7ce" fill-rule="evenodd" d="M1675.5,739.5l-44.5,0.5-3,33.5-59.5,0.5-87.5-0.5-3-33.5-43.5-0.5 0-166.5 73.5,0 3.5,56 2,13 2.5,10 8,16 11.5,15 14.5,15 6.5,3 3-0.5 3-2.5 9.5-15 4.5-10 3.5-17 1.5-13 0-20-4.5-50 98.5,0zM1511.5,739l0-19-2,0 0,19zM1552.5,772l2-0.5 2.5-2 1.5-6-1.5-6.5-2.5-2-2-0.5-3,1-2,1.5-1.5,6.5 0,3 1.5,3 2,1.5z"/>
<path fill="#5abdba" fill-rule="evenodd" d="M1675.5,739.5l-46.5,0.5-3.5,33.5-50,0-91.5,0-4-33.5-45.5-0.5 0-166.5 67,0 2.5,61 1.5,10 2.5,9 5,9 9,11 25.5,25 5,3.5 4,1.5 3-1 5-4 10-15 5.5-11 4.5-16 1.5-14 0.5-19-1-22-3-28 93,0zM1512.5,739l0-19-3,0 0,19zM1599.5,739.5l0-19.5-0.5,0 0,19zM1552.5,773l3-1 2-2.5 1.5-3 0.5-3-2-6.5-2-2-3-1.5-3,1-2,1.5-1.5,3-1,4.5 0.5,4 2,3 2,1.5z"/>
<path fill="#6ebf9e" fill-rule="evenodd" d="M1675.5,739.5l-49,0.5-4,33.5-41,0-25.5,0 2-2 1.5-3 1-7-3-6.5-2-1.5-3-1-3,0.5-2,1.5-2,2.5-1,4.5 0.5,7 1.5,3 2.5,2-62,0-4.5-33.5-48-0.5 0-166.5 57.5,0 0.5,23-2.5,39 1.5,11 3,10 5,7.5 7,6.5 19,12 21,17.5 7,4 4,1.5 4-2.5 5.5-4.5 11-15 7-11 6-17 2.5-14 1-18-0.5-22-2.5-28 84,0zM1514,739l0-19-4.5,0 0,19zM1599.5,739.5l0-19.5-2.5,0 0,19z"/>
<path fill="#7ec284" fill-rule="evenodd" d="M1675.5,739.5l-51,0.5-2,15-3.5,18.5-33.5,0-27,0 3-6-0.5-8.5-3.5-6-5-2-3,0.5-2.5,1.5-3.5,6 0,8.5 2.5,6-55.5,0-4-18.5-2-15-50-0.5 0-166.5 41.5,0-3,46 0,14 2.5,17 2.5,7 3,6 4.5,6 6.5,5 6.5,3 23,8.5 8,4.5 18.5,12 6,3 3.5,1 4.5-2 7.5-6 22-25 6.5-10 4-9 3.5-13 1.5-18 0.5-24-1.5-26 69.5,0zM1516,739l0-19-6.5,0 0,19zM1599.5,739.5l0.5-19.5-5,0 0,19z"/>
<path fill="#8ac66c" fill-rule="evenodd" d="M1675.5,739.5l-39,0-14,0.5-2,15-5,18.5-27,0-27,0 2-8-1.5-8.5-4-6-2.5-1-3-1-3,0.5-3,2-3.5,5.5-1.5,8.5 2,8-49.5,0-5-18.5-2.5-15-14-0.5-38,0 0-166.5 15.5,0-1,38 2,25 3,13 3,10 4.5,9 4,6 6.5,5 8.5,4 8,1.5 21,2 11,3 8,3.5 17,10 9,3 1.5,2 1.5,1 1.5-1 0.5-2 5-2 5.5-4 17.5-16 18-13 6-6 4-6 3-8 2-12 6.5-66 48.5,0zM1600,739l-0.5-19-90.5,0 0.5,19.5z"/>
<path fill="#9ecc50" fill-rule="evenodd" d="M1461,739l0-8 0.5-7 2.5-7 3-6 4-5 4.5-4 6.5-4 7.5-3.5 14-3 7,0 7,1 8,3 16.5,8.5 9.5,2 4,6 3,1.5 2.5-2.5 1.5-5 6-2 15-12 8-5 11-4.5 21-4 6-2.5 3-3 2.5-6 4-43 3-13 5-11 6.5-8.5 7-3.5 4-0.5 4,1.5 7,5 0,90.5-5,5.5-11,9.5-4,5.5-2,8-3,26-30,1-3,16.5-6.5,17-43,0-1.5-11-3.5-9.5-5.5-5.5-5-1.5-3,1-3,1.5-4.5,5.5-3,8.5-1,11-40,0-6.5-17-3-16.5zM1600,739l-0.5-19-90.5,0 0.5,19.5z"/>
<path fill="#bad430" fill-rule="evenodd" d="M1633.5,739l-15,1-2,10-3,9.5-4,7.5-5,6.5-26.5,0-3.5-5.5-10-20.5-4-4.5-4-3 43-0.5 0-19.5-42-0.5-48,0 0,20 41,0.5-5,3.5-4,5-12.5,25-24.5,0-5-6.5-4-7.5-3-9.5-2-10-14-1 0-5 2-12 5-10 8.5-9 9.5-5.5 10-1.5 11,2 14,6.5 7,1.5 4,3.5 6,7.5 4,2 2.5-1 2-2 3.5-10 7.5-2 10.5-7.5 7-4 6-2 7-0.5 7,1 6,2.5 5.5,3.5 4.5,6 4,7 2.5,9 1.5,9z"/>
<path fill="#d4dc18" fill-rule="evenodd" d="M1590.5,771l-6-2-6-5.5-4.5-7.5-8-16 33.5-0.5 0.5-19.5-34.5-1 3.5-8 3-5 4.5-1.5 15-8 6-1 5,0 5.5,1.5 5,3 4.5,5 4,6 2.5,6 1.5,7 0.5,7-0.5,8-9,1-2,8-2.5,7-3.5,6.5-4,5-7,4zM1516.5,771l-7-1.5-6-4-4-5.5-3-5.5-3.5-14.5-8.5-1 0-8 1-7 2.5-6 3.5-6 4-5 5-3.5 5-2.5 6-1 8,1 10.5,4 6.5,6 5.5,8-32.5,0.5-0.5,0.5 0,19 0.5,0.5 32.5,0.5-9.5,17.5-4.5,7-5.5,4.5z"/>
<path fill="#ece408" fill-rule="evenodd" d="M1592.5,766l-6-1.5-6-5-5.5-8.5-5-11 29.5,0 0.5-1 0-19-0.5-0.5-29-0.5 3.5-7 4.5-6 12-5.5 9-1.5 5,1.5 4,2.5 4,3.5 3.5,4.5 3,6 1.5,6 0.5,13 0,3-6.5,1-3,11-6,9.5-6,4.5zM1515.5,766l-6-1-6-4.5-6-9.5-3-11-5.5-1 0-3 1-12 2.5-6 3-5 3.5-4 4.5-3 4-2 5-1 7,1 6,3 6,5 4.5,7-26.5,0.5-0.5,0.5 0,19 0.5,1 28.5,0-5.5,11-5,8-6,5z"/>
<path fill="#f8d804" fill-rule="evenodd" d="M1593.5,762l-6-1.5-5.5-4.5-4.5-7-4-9 26,0 0.5-1 0-19-0.5-0.5-24.5-0.5 3.5-7 6-6 6-2.5 7-1 4,1 4,2 4,3.5 3,3.5 4.5,10.5 1,11-0.5,5-4.5,1-3,9-4.5,7.5-6,4.5zM1515.5,762l-6-1-6-4.5-4.5-7.5-2.5-9-4-1-0.5-4 1.5-11 4.5-9 6.5-6 8-2.5 6,0.5 5,2.5 4.5,3.5 4,6-22.5,0.5-0.5,0.5 0,19 0.5,1 25.5,0-4,9-5,7-5.5,4.5z"/>
<path fill="#f8b80c" fill-rule="evenodd" d="M1593.5,758.5l-5-1.5-5-3.5-4-6.5-3-7 23,0 1-1 0-19-1-0.5-21.5-0.5 3.5-5.5 4.5-4.5 4.5-2.5 6-0.5 4,0.5 4,2 6,6.5 4,9 0.5,10-0.5,5-3.5,1-2.5,7.5-4,6-5,4zM1514.5,758.5l-6-1.5-5-4.5-3-5.5-2.5-7-2.5-1-0.5-5 1.5-10 4-8 6-5 7-2 5,1 4,2 3.5,3 3,4-19.5,0.5-0.5,0.5 0,19 0.5,1 22.5,0-3.5,8-4,5.5-5,4z"/>
<path fill="#f69614" fill-rule="evenodd" d="M1594.5,755.5l-5-1-4-3-4-5.5-2.5-6 20.5,0 1-1 0-19-1-0.5-18.5-0.5 2.5-4 4-3.5 4-2 4-0.5 6,1.5 6,5 4,7.5 1,9-0.5,7-3,1-1.5,5-3,5-5,4zM1514.5,755.5l-5-1.5-5-4-2.5-5-2-5-2-1-0.5-5 1-9 3.5-7 5.5-4.5 6-1.5 4,0.5 3,1.5 5.5,5-16.5,0.5-0.5,0.5 0,19 0.5,1 20,0-2.5,6-3.5,5-4,3z"/>
<path fill="#f2721c" fill-rule="evenodd" d="M1594.5,753l-4-1-4-2.5-3-4.5-2.5-5 18.5,0 1-1 0-19-1-0.5-16-0.5 5-5 3-2 4-0.5 6,1.5 5,5 3.5,7 0.5,8-1,6-2,1-4,8-4,3.5zM1514.5,752.5l-5-1-4-3.5-4-8-1-1-1-5 1-8 3-6 4-4 6-1.5 5,1 4.5,3.5-13.5,0.5-1,0.5 0.5,19 0.5,1 18,0-2,5-3.5,4-3.5,2.5z"/>
<path fill="#ec521e" fill-rule="evenodd" d="M1594.5,750.5l-4-1-3-2.5-4-7 16,0 1-1 0-19-1-0.5-13-0.5 4-3.5 5-1.5 5,1.5 5,4.5 2.5,6 0.5,7-1,6-1.5,1-3.5,6-4,3.5zM1515.5,750l-4-0.5-4-2.5-5-8-1-4 0.5-6 2-6 3.5-4 5-2 4,0.5 3.5,1.5-10.5,0-1,1 0,19 1,1 16,0-4,6.5-3,2.5z"/>
<path fill="#e4361a" fill-rule="evenodd" d="M1594.5,748l-5-2-4.5-6 14.5,0 1-1 0-19-1-0.5-10.5-0.5 2.5-2 4-1 5,2 3.5,3 2.5,6 0.5,6-1,6-2,1-2.5,4.5-3,2.5zM1516.5,747.5l-4,0.5-3-1.5-3-3-2.5-5.5-1-5 1-5 1.5-4 3-3.5 0,18.5 1,1 14.5,0-3.5,5z"/>
<path fill="#cb2518" fill-rule="evenodd" d="M1592.5,745.5l-3-2-2.5-3.5 12.5,0 1-1 0-18.5 3,3.5 1.5,4 0.5,5-1.5,6-5.5,5.5-3,1.5zM1516.5,745.5l-3,0-3-1-3-3-1.5-3.5-1-4 0-4 1.5-4 2-2.5 0,15.5 1,1 12.5,0-2.5,3.5z"/>
<path fill="#a11f18" fill-rule="evenodd" d="M1600.5,740l0-16.5 2,3.5 1,5-1,5zM1508.5,738.5l-1.5-5.5 1.5-6zM1519.5,740l-2,2-3,1-3-0.5-2.5-2.5zM1600.5,740l-3,2.5-3,1-3-1-2-2.5z"/>
</g></g>
<path d="M1434.6,740.1 H1675.6 M1434.6,773.5 H1675.6" stroke="#fff" stroke-width="2.3" stroke-dasharray="3.6,2.8" fill="none"/>
<path d="M1509.1999999999998,740.1 V720.1 H1599.8999999999999 V740.1" stroke="#fff" stroke-width="2.3" stroke-dasharray="3.6,2.8" fill="none"/>
<path d="M1447.1999999999998,783.1 V812.8 H1478.6" stroke="#fff" stroke-width="1.8" fill="none"/>
<polygon points="1447.1999999999998,779.6 1443.6,787.1 1450.7999999999997,787.1" fill="#fff"/>
<polygon points="1483.6,812.8 1476.1,809.1999999999999 1476.1,816.4" fill="#fff"/>
<text x="1455.1" y="792.7" font-size="29.5" font-weight="bold" fill="#fff">z</text>
<text x="1483.3999999999999" y="820.3" font-size="29.5" font-weight="bold" fill="#fff">x</text>
<text x="1448.1" y="609.1" font-size="28" fill="#fff">(ii)</text>
<text x="1535.3999999999999" y="614.4" font-size="31" fill="#fff">|E|<tspan font-size="17" dy="-17" dx="1">2</tspan></text>
<g clip-path="url(#cf01)"><g filter="url(#b07)">
<rect x="1182.4" y="831.2" width="241.0" height="249.2" fill="#42285f"/>
<path fill="#3c2d73" fill-rule="evenodd" d="M1423.5,1032.5l-48.5,0-4.5,5-5.5,4-6.5,3-8,2.5-20,3-29,1-29-1-20-3-8-2.5-6.5-3-5.5-4-5-5-45,0 0-201.5 241,0z"/>
<path fill="#373485" fill-rule="evenodd" d="M1423.5,1032l-60,0.5-10,7.5-13,5-17,3-22,1-22-1-17-3-13-5-10-7.5-57-0.5 0-80 2-0.5 10.5-8-5-3-7.5-1 0-108.5 241,0 0,106.5-8-2-8-1-10,0.5-3.5,1.5 12.5,6.5 11,7.5 6-2.5z"/>
<path fill="#313e9b" fill-rule="evenodd" d="M1423.5,1032l-68,0.5-9,6-12,4.5-15,3-18,1-18-1-15-3-12-4.5-9-6-65-0.5 0-76 11-8.5 14-8-1-1-9-2.5-15-1 0-104 241,0 0,102-11-2-11,0-12.5,1.5-4.5,1-0.5,1 10.5,4 10,5.5 19,14z"/>
<path fill="#324caa" fill-rule="evenodd" d="M1423.5,1032l-75,0.5-8,5-11,4-13,2.5-15,1-15-1-13-2.5-11-4-8.5-5-71.5-0.5 0-73 7.5-6.5 9-6 9.5-5.5 10.5-4.5-18.5-4.5-18-1.5 0-99.5 241,0 0,97.5-14-1.5-13,0.5-14,2-10.5,3 15.5,5 14,7 12,8.5 10,9z"/>
<path fill="#345cb6" fill-rule="evenodd" d="M1423.5,1032l-80.5,0.5-8.5,4.5-9,3-11,2-13,1-13-1-11-2-9-3-8.5-4.5-77.5-0.5 0-69.5 11-10 13-8 15-7 16.5-5-0.5-1-34-4.5-21-1 0-95 241,0 0,93.5-17-1-16,0.5-17,2.5-19,4 21,5 19,7.5 16,10.5 13,12.5z"/>
<path fill="#346dc3" fill-rule="evenodd" d="M1423.5,1032l-86,0.5-7,3.5-9,3-10,1.5-10,0.5-10-0.5-10-1.5-9-3-7.5-3.5-82.5-0.5 0-66 4-4.5 8-7 10.5-7 11.5-6 12-4.5 12-3.5 12-2 15-1.5 16,0.5 0.5-1-6.5-4-8-1.5-32-0.5-55-2.5 0-90 241,0 0,88.5-31.5,0-57.5,4-9,2-7,4 1,1 16-0.5 16,1.5 12,2.5 11,3 12,4.5 11,6 10,6.5 8.5,7.5 7.5,8z"/>
<path fill="#3281cf" fill-rule="evenodd" d="M1423.5,1031.5l-91,1-14,5-17,1.5-17-1.5-14-5-88-1 0-61 8-9 8.5-7 9.5-6 11-5.5 11-4.5 13-3.5 14-2 15-1 15,1 1-0.5 0.5-3-4.5-5.5-5-3.5-4-2-6-1-87-2 0-84.5 241,0 0,84-31,0-58,2-6,1-5,2.5-5,3.5-5,5.5 0.5,3 1.5,0.5 15-1 15,1 14,2 13,3.5 11,4 10,5 10,6.5 8,6.5 6.5,7 5.5,7.5zM1301.5,1022l1-0.5 1-2-0.5-2-1.5-1-1.5,1-0.5,2 0.5,2z"/>
<path fill="#3093d9" fill-rule="evenodd" d="M1423.5,1031.5l-96.5,1-12.5,3.5-13,1-13-1-12.5-3.5-93.5-1 0-55.5 5.5-7.5 6.5-7 8-6.5 9-5.5 9.5-5 10.5-4 15-4 14-2 16-0.5 15,1.5 1-1 0.5-5-4.5-7.5-4-4.5-6-3.5-8-2-16-1-72-0.5 0-79.5 241,0 0,79-74,0.5-17,1.5-8,2-6,3.5-4,4.5-4.5,7.5 0.5,5 1,1 15-1 15,0 14.5,2 12.5,3 11,4 10.5,5 9.5,6 8,6 9,10 7,11.5zM1301.5,1023l2-1 1-2.5-1-3-2-1-2,1-1,3 1,2.5z"/>
<path fill="#30a1de" fill-rule="evenodd" d="M1423.5,1031.5l-103,1-9,2-10,1-10-1-9.5-2-99.5-1 0-48.5 6-10.5 10-10.5 9.5-7.5 10.5-6 12-5.5 12-3.5 12-2 13-1 14,0 15,2 0.5-9-4-10-3.5-5-6-5-8-2.5-20-2-73,0 0-74 241,0 0,74-75,0-20,1.5-8,2.5-6,4.5-4.5,6-4,10 0.5,9 15-1.5 14-0.5 13,1 12,2 12,3.5 11,4.5 11,6.5 9,7 6.5,6.5 5.5,7 4,7 4,11.5zM1301.5,1024l3-1.5 0.5-3-0.5-3-3-2-3,2-1,3 1,3z"/>
<path fill="#38adda" fill-rule="evenodd" d="M1423.5,899l-241,0 0-68 241,0zM1423.5,1031.5l-110.5,1-11.5,1-11.5-1-107.5-1 0-34 2,0 1.5-9 4-9 4.5-7 5-6 8-7 8-6 9-5 9.5-4 15-4 12.5-1.5 18,0.5 22,3.5 29-4 15,0 7,1 17,4.5 13,6 14,9 11,12 4.5,6 3.5,7 2,6 1,7 5,1zM1301.5,1025l3-1.5 1.5-4-1.5-4.5-3-1.5-3,1.5-1.5,4.5 1.5,4z"/>
<path fill="#48b7ce" fill-rule="evenodd" d="M1423.5,887l-241,0 0-56 241,0zM1419.5,1031.5l-118,1-118-1 0-33 8-1 1.5-9 3.5-8 5.5-8 7.5-8.5 7-5.5 8-5 16-7.5 12-2.5 13-0.5 17,1.5 19,3.5 29-4.5 12-0.5 10,0.5 13,3.5 13.5,6.5 13,9 9.5,10 7,12 2,6 1,7 8,1zM1301.5,1026l3-1.5 2-5-1.5-5-3.5-2-3.5,2-1.5,5 1.5,5z"/>
<path fill="#5abdba" fill-rule="evenodd" d="M1415.5,1031.5l-122,0.5-106-0.5-0.5-33 11-1 1-7 2.5-7 4-7 6-7.5 7-6.5 8-5.5 8.5-4.5 8.5-3.5 11-2 12,0 16,2 19,4 30-5.5 12-1 9,1 8,1.5 8,3 8,4.5 8,5.5 8,7.5 6.5,9 4,9 2.5,10 10,1zM1259.5,997.5l0-19-2,0 0,19zM1347.5,997.5l0-19-2,0 0,19zM1301.5,1027l2-0.5 2-2 1.5-5-1.5-5.5-2-2-2-0.5-2,0.5-2,2-2,5.5 2,5 2,2z"/>
<path fill="#6ebf9e" fill-rule="evenodd" d="M1411.5,1031.5l-123,0.5-97-0.5 0-33 11.5-1 1-7 2.5-6 4-7 5.5-6 5.5-5.5 9.5-6.5 7.5-4.5 7-2.5 10-2 11,0.5 18,2 17,3.5 26-4.5 16-1 9,0 7,2 7,2.5 14,9.5 8,7.5 6,8 4,8 2,9 11,1zM1261,997.5l0-19-3.5-0.5 0,19.5zM1347.5,997.5l0-19-4,0 0,19zM1301.5,1028l3-1 1.5-1.5 1.5-3 0.5-3-2-6-1.5-2-3-1-2.5,1-2.5,2-1.5,6 0,3 1.5,3 2,1.5z"/>
<path fill="#7ec284" fill-rule="evenodd" d="M1407,1031.5l-120.5,0.5-90.5-0.5-0.5-33 11.5-1 1.5-7 2.5-6 3.5-6 5-6 6-5.5 7-5 8-4.5 7-2.5 10-1.5 12,0.5 16,2 16,4 14-3 14-2.5 13-1 10,1 12,4 13,8 7.5,7 6,8 3.5,8 1.5,8 11.5,1zM1263,997.5l0-19-5.5-0.5-0.5,19.5zM1347.5,997.5l0-19-6,0 0,19zM1301.5,1029l3-0.5 2-2 2-3 0.5-4-0.5-4-2-3-2-2-3-1-3,1-2.5,2-1.5,3-0.5,4 0.5,4 1.5,3 2.5,2z"/>
<path fill="#8ac66c" fill-rule="evenodd" d="M1403.5,1031.5l-204,0-0.5-33 11.5-1 1-6 2.5-6 3.5-6 4.5-6 7-6 6.5-5 6.5-3 6.5-2.5 9-1.5 12,1 16,2.5 16,4 15-3.5 14-2.5 13-1 9,0.5 7,2 7,3 7,5 6.5,6 5.5,6 3.5,6 2.5,6 1.5,7 11,1zM1347.5,997.5l0-19.5-90.5,0.5 0.5,19zM1302.5,1030l3-1 2.5-2.5 1.5-4 0.5-4-1-4-2-3-2.5-2.5-3-0.5-4,1.5-2.5,2.5-2,4 0,4 0.5,4 3,3.5 3,2z"/>
<path fill="#9ecc50" fill-rule="evenodd" d="M1399.5,1031.5l-96,0 3.5-2 2.5-3 1.5-4 0-4-0.5-4-2.5-4-3.5-3-3-0.5-3,1-3.5,2.5-2.5,4-1,4 0.5,4 1.5,4 2,3 3.5,2-95.5,0-1-33 11.5-1 1-6 2-6 8-11 11.5-10 6-3 6-2.5 9-1 12,0.5 17,3.5 15,4 14-4 15-2.5 13-1.5 9,0.5 7,2 6,3 6,4 6,6 5,6 3.5,6 2.5,6 1,6 11,1zM1347.5,997.5l0-19.5-90.5,0.5 0.5,19z"/>
<path fill="#bad430" fill-rule="evenodd" d="M1394,1031.5l-86,0 2.5-3 2-4 0.5-4-0.5-5-1.5-4-2.5-3-3-2.5-4-0.5-4,0.5-3,2.5-2.5,3-1.5,4-0.5,5 0.5,4 2,4 2.5,3-86,0-1-33 10-1 2.5-11 7.5-11 10.5-9.5 11-4.5 10-1.5 13,2 13,3.5 16,6 28.5-9 13.5-2 9,0.5 6,1.5 5.5,3 5.5,4 5.5,5 4.5,6 3.5,6 1.5,4 1,7 10,1zM1348,997.5l-0.5-19.5-90.5,0.5 0.5,19z"/>
<path fill="#d4dc18" fill-rule="evenodd" d="M1388.5,1031.5l-76.5,0 2-4 1-4 0-5-1-5-2-4-3.5-4-3-2-4-1-4,1-3,2-3,3-2.5,5-1,5 0,5 1,4 2,4-76.5,0-2-33 10-1 1.5-8 3-7 4.5-7 5-5 10-6 5-1.5 6-0.5 7,0.5 23.5,8.5 13,6-43.5,0-0.5,1 0.5,19.5 90,0 0.5-19.5-0.5-1-45.5,0 16.5-7 20-6.5 7-1 7,0 5,1.5 5.5,3 9.5,8 6,11 2.5,11 9.5,1z"/>
<path fill="#ece408" fill-rule="evenodd" d="M1387,998.5l-0.5,9.5-1,5.5-6,18-63,0 1.5-10-0.5-6-2-5-2.5-5-3.5-3.5-4-2.5-4-0.5-4,1-4,2-4,4.5-2,4-1.5,5-1,6 1.5,10-30,0-32.5,0-5-17-2.5-16 9.5-1 1.5-7 2.5-7 4.5-7 5-5.5 7.5-4.5 8.5-2 9,1.5 18,7.5 3,4-28,0-0.5,1 0,19 0.5,0.5 90,0 0.5-0.5 0-19-0.5-1-28,0 2.5-4 17.5-7 9-1.5 9,1.5 7.5,5 4.5,5 4.5,7 2.5,7 1,7z"/>
<path fill="#f8d804" fill-rule="evenodd" d="M1275.5,1031.5l-40.5,0-5.5-10-3.5-11-2-12 5.5-1 1.5-9 4-8 5.5-7 7-5 7-1.5 8,1.5 11,5 2.5,4-18.5,0-1,1 0.5,19 0.5,0.5 31,0.5-5,11-5,17zM1369,1031.5l-39.5,0-3-4-7-19-4-10 32-0.5 0.5-0.5 0-19-0.5-1-18.5,0 2-4 13.5-5.5 9,0 5,1.5 4,3 7,8 3.5,8 1.5,9 6,1-1.5,9-2,8-3.5,8z"/>
<path fill="#f8b80c" fill-rule="evenodd" d="M1251.5,1031l-5-1-4-2-4.5-4.5-6-12-2.5-13 3-1 0.5-6 1.5-5 2.5-5 4-5 7.5-5.5 8-1.5 5,1 6,2.5 2.5,4.5-12.5,0-1,1 0,19 1,0.5 22,0.5-3.5,13-3,6-3.5,4.5-4,4-5,3.5-4,1zM1354.5,1031l-5,0-5-1.5-5-3-4-4-3.5-5-3-6-3.5-13 22-0.5 0.5-0.5 0-19-0.5-1-12.5,0 2.5-4 10-3.5 8,1 4,2 4,3.5 3.5,5 2.5,5 2,11 3.5,1-2.5,12-5,11-6,7.5z"/>
<path fill="#f69614" fill-rule="evenodd" d="M1251.5,1024l-6-2-5-4-5-9.5-2-10 2.5-1 0.5-9 2-5 3.5-5 6.5-5 4-1 4-0.5 6,2 3,3.5-8,0-1,1 0,19 1,0.5 15.5,0.5-2.5,10-5,8.5-7,5.5zM1354.5,1024l-7-1-7-5-5.5-8.5-3-11 15.5-0.5 0.5-0.5 0.5-19-1-1-8,0 2-3 6-2 4,0 4,1 6.5,5 3,4 2.5,5 1,5 0,5 2.5,1-2.5,10-3.5,8-3.5,4.5z"/>
<path fill="#f2721c" fill-rule="evenodd" d="M1251.5,1019l-5-1.5-5-4.5-3-6.5-2-8 2.5-1 0.5-11 3.5-6 6.5-5 7-1 3,1 2,2-4,0-1,1 0,19 1,0.5 11.5,0.5-2.5,9-4,6.5-5,4zM1354.5,1019l-6-0.5-6-4-4-7-3-9 12-0.5 0.5-0.5 0.5-19-1-1-4,0 2-2 2-0.5 7,0.5 3.5,2 3,3 4.5,7 0.5,10 2,1-2,8-3.5,7-3,3z"/>
<path fill="#ec521e" fill-rule="evenodd" d="M1252.5,1014.5l-5-1.5-4-3.5-2.5-4-1.5-7 2-1 0.5-9 3-7 4.5-4 5-1 2,1 0,20 1,0.5 8,0.5-2,7-3,5-4,3zM1353.5,1014.5l-5-1-4-3-3.5-5-2-7 8.5-0.5 1-0.5 0-20 2-0.5 5,1 5,4.5 2.5,7 0,8 2,1-1.5,6-2,4.5-4,4z"/>
<path fill="#e4361a" fill-rule="evenodd" d="M1252.5,1010.5l-3-0.5-3.5-2.5-2.5-4-1.5-5 2-1 0-7 2-6 2.5-3 4-1.5 4,1 0,16.5 1,0.5 5.5,0.5-1.5,5-2.5,4-3.5,2.5zM1352.5,1010.5l-3-0.5-3.5-2.5-2.5-4-1.5-5 5.5-0.5 1-0.5 0-16.5 4-1 3,1 3,3.5 2.5,6-0.5,7 2.5,1-1.5,5-2,3-3,3z"/>
<path fill="#cb2518" fill-rule="evenodd" d="M1252.5,1006.5l-2-0.5-2.5-1.5-3.5-6 2.5-1-0.5-5 1.5-5 1.5-2 3-1.5 2,0.5 2,1.5 0,11.5 1,1 2.5,0-3,6-2.5,1.5zM1352.5,1006.5l-2-0.5-2.5-1.5-3.5-6 3,0 1-1 0-11.5 2-1.5 2-0.5 2,0.5 2.5,3 1.5,5-0.5,5 2,1-3,6-2.5,1.5z"/>
<path fill="#a11f18" fill-rule="evenodd" d="M1252.5,997l-1-0.5-1-3 1-2 1-1 1.5,1 0.5,2 0,2zM1352.5,996.5l-2-1 0-2 0.5-2 1.5-0.5 1.5,2.5-0.5,2zM1248.5,998.5l4-1 4,1-2,2.5-2,0.5-2-0.5zM1356.5,998.5l-2,2.5-2,0.5-2-0.5-2-2.5 4-1z"/>
</g></g>
<path d="M1182.4,998.2 H1423.4 M1182.4,1031.6000000000001 H1423.4" stroke="#fff" stroke-width="2.3" stroke-dasharray="3.6,2.8" fill="none"/>
<path d="M1257.0,998.2 V978.2 H1347.7 V998.2" stroke="#fff" stroke-width="2.3" stroke-dasharray="3.6,2.8" fill="none"/>
<path d="M1195.0,1041.2 V1070.9 H1226.4" stroke="#fff" stroke-width="1.8" fill="none"/>
<polygon points="1195.0,1037.7 1191.4,1045.2 1198.6,1045.2" fill="#fff"/>
<polygon points="1231.4,1070.9 1223.9,1067.3000000000002 1223.9,1074.5" fill="#fff"/>
<text x="1202.9" y="1050.8" font-size="29.5" font-weight="bold" fill="#fff">z</text>
<text x="1231.2" y="1078.4" font-size="29.5" font-weight="bold" fill="#fff">x</text>
<text x="1196.4" y="867.2" font-size="28" fill="#fff">(iii)</text>
<text x="1283.9" y="872.5" font-size="31" fill="#fff">|E|<tspan font-size="17" dy="-17" dx="1">2</tspan></text>
<g clip-path="url(#cf11)"><g filter="url(#b07)">
<rect x="1434.6" y="831.2" width="241.0" height="249.2" fill="#42285f"/>
<path fill="#3c2d73" fill-rule="evenodd" d="M1675.5,1045l-25,1.5-39-0.5-41,4-16,0.5-15-0.5-38-3.5-38,1-29-2 0-214.5 241,0z"/>
<path fill="#373485" fill-rule="evenodd" d="M1675.5,1043.5l-25,1-39,0-42,3.5-15,0.5-15-0.5-38-3.5-38,1-29-2 0-212.5 241,0z"/>
<path fill="#313e9b" fill-rule="evenodd" d="M1675.5,1042l-25,1-38,0-58,3.5-53-3.5-38,1-29-2 0-211 241,0z"/>
<path fill="#324caa" fill-rule="evenodd" d="M1675.5,1041l-25,0.5-39,0-57,3-53-3-38,0.5-29-1 0-210 241,0z"/>
<path fill="#345cb6" fill-rule="evenodd" d="M1675.5,1039.5l-25,0.5-38,0-58,2.5-53-2.5-38,0.5-29-1 0-208.5 200.5,0 2.5,10 5,8 4,3.5 2-1.5 0.5-4-7.5-16 34,0z"/>
<path fill="#346dc3" fill-rule="evenodd" d="M1675.5,1038l-63,0.5-58,2.5-53-2-38,0-29-1 0-207 191,0 2.5,6 20.5,40.5 4,6.5 3,2.5 2-1 1.5-6.5 0.5-10-0.5-12-1-7-6.5-19 24,0z"/>
<path fill="#3281cf" fill-rule="evenodd" d="M1675.5,1037l-64,0-57,2-53-1.5-38,0-29-0.5 0-206 185,0 13.5,26 16,34 5.5,5.5 5,1.5 3-1.5 3-5.5 0.5-25 0-9-8-26 17.5,0z"/>
<path fill="#3093d9" fill-rule="evenodd" d="M1675.5,1035.5l-63,0.5-58,1.5-53-1.5-67-0.5 0-204.5 178.5,0 13.5,23.5 18.5,36.5 8.5,11 4,3 3,0.5 3-0.5 2.5-1.5 5-11.5 2.5-28-3-16-5-17 10,0z"/>
<path fill="#30a1de" fill-rule="evenodd" d="M1675.5,1034.5l-121,1-120-1 0-203.5 171.5,0 14.5,22.5 20.5,37.5 7.5,11.5 6,6.5 6,4 3,0 3-1 4-3.5 5-11.5z"/>
<path fill="#38adda" fill-rule="evenodd" d="M1675.5,1033.5l-121,0.5-120-0.5 0-197.5 7.5-5 151.5,0 9,9 9,11 25.5,40 10.5,16 7,8.5 5,3 5,0.5 6-1.5 5-4z"/>
<path fill="#48b7ce" fill-rule="evenodd" d="M1675.5,1032.5l-241,0 0-152 18-14 20-12 21-9 22-6 23-3.5 21,0.5 18,3.5 8,3 7,4 12,10 17,19 30,41.5 5,3.5 6,2.5 6,0 7-1.5zM1513,997.5l0-19-3.5,0 0,19z"/>
<path fill="#5abdba" fill-rule="evenodd" d="M1675.5,1032l-241,0 0-127 17-16 20-14 21.5-11 22.5-7 22-3.5 11-0.5 10,0.5 16,3.5 13,4.5 10,4.5 12,8 11,9.5 12,14.5 13.5,18.5 6.5,6 4,3 5,2 14,1.5zM1516,997.5l0-19-6.5-0.5 0,19.5z"/>
<path fill="#6ebf9e" fill-rule="evenodd" d="M1675.5,1032l-241,0 0-105 15-17.5 17-15 19-12 21-9 22-5.5 22-2 20,2.5 10,2.5 9,3.5 16,8.5 14,10.5 11,10.5 14.5,17.5 6.5,6 7,4 14.5,5 2.5,3zM1599.5,997.5l0-19-90,0 0,19z"/>
<path fill="#7ec284" fill-rule="evenodd" d="M1675.5,1032l-241,0 0-83 12-18.5 14-16 17.5-14 19.5-11 21-7.5 11-2.5 11-1.5 11-0.5 10,1 10,1.5 9,2.5 19,9 20,13 9,8 18,17.5 5,3.5 6.5,3 8.5,9 9,13.5zM1599.5,997.5l0-19.5-90,0.5 0,19z"/>
<path fill="#8ac66c" fill-rule="evenodd" d="M1675.5,1031.5l-241,0 0-56.5 3-9.5 4.5-10 5.5-10 6.5-9 7.5-9 8-8 18-13.5 20-10 11-4 11-2.5 11-1.5 11-0.5 10,1 10,1.5 18,6.5 11,6 12,8 33,26 9,8.5 6,7.5 9.5,16 5.5,17zM1600,997.5l-0.5-19.5-90,0.5 0,19z"/>
<path fill="#9ecc50" fill-rule="evenodd" d="M1675.5,1031.5l-241,0 0-34 6.5,0 1-12 3-12 4.5-11 6-11 11-15 14-13 9-6 10-6 10-4.5 11-3.5 11-2.5 10-1.5 10,0 10,0.5 10,2 10,3.5 10,4.5 12,6.5 13,8 12,9 10,8.5 8,8.5 8.5,11 6,11 4,12 2.5,13 8,0zM1600,997.5l-0.5-19.5-90.5,0.5 0.5,19z"/>
<path fill="#bad430" fill-rule="evenodd" d="M1675.5,1031.5l-241,0 0-33.5 18-0.5 0.5-10 2-9 3-9 4.5-9 5-8 7-8 7-7 8-6 17-9 19-6 19-3 18,1 19,4.5 21,8.5 18,11 14,12 9.5,11 6,11 4,12 2,13 19.5,0.5zM1600,997.5l-0.5-19.5-90.5,0.5 0.5,19.5z"/>
<path fill="#d4dc18" fill-rule="evenodd" d="M1653.5,1031.5l-194,0-1-33 3-1 0.5-9 2-9 2.5-8 4-8 5-7 5-6 12-9.5 8-4.5 8-3 20-5 21-1.5 20,1.5 21,5 17,6 14,9 11.5,11 6,9 4.5,9 2.5,10 1,10 7.5,1zM1600,997.5l-0.5-19.5-90,0-0.5,0.5 0.5,19.5 50,0z"/>
<path fill="#ece408" fill-rule="evenodd" d="M1636.5,1031.5l-161.5,0-2.5-16-1-17-3.5-1 0.5-10 2.5-10 6.5-13 9-11 11-7.5 14-5 20-3.5 24-0.5 25,2.5 19,4 12,5 10,7 8.5,9 6,11 3.5,10 1,11-2,21zM1600,997.5l0-19-0.5-0.5-90-0.5-0.5,1 0,19 0.5,0.5 90,0z"/>
<path fill="#f8d804" fill-rule="evenodd" d="M1635,997.5l-4,1-1,17-4,16-57.5,0-5.5-18-1.5-15 38-0.5 0.5-0.5 0-19-0.5-1-90,0-0.5,1 0,19 0.5,0.5 39.5,0.5-2,15-5.5,18-57,0-4-16-1.5-17-5-1 0-5 2-13 5-11 8.5-10 10-7 10-3.5 11-1.5 46,0 19,1 11,1.5 10,3 9,5.5 8.5,8 6.5,10 3.5,11z"/>
<path fill="#f8b80c" fill-rule="evenodd" d="M1630,997.5l-5,1-2,18-4.5,15-42,0-5-16-2-17 30-0.5 0.5-0.5 0.5-19-1-1-90,0-0.5,1 0,19 0.5,0.5 31.5,0.5-1.5,13-3,13-3,7-41.5,0-5-15-2-18-6.5-1 0-5 2-12 5.5-11 8.5-9 10-5 7-2 8-0.5 35,1.5 34-1 9,1 8,2.5 7,4 6.5,5.5 5.5,7 3,7 2,8z"/>
<path fill="#f69614" fill-rule="evenodd" d="M1625.5,997.5l-5.5,1-0.5,10-2,8.5-3,8.5-3.5,6-27,0-4-7-2.5-8-2-9-0.5-9 24.5-0.5 1-0.5 0-19-1-1-90,0-0.5,1 0,19 0.5,0.5 26,0.5-1.5,13-3,11-5,9-27,0-3.5-6-3-8.5-1.5-8.5-1-10-7-1 0-5 2-11 4.5-9.5 8-7.5 9-4.5 6-1 7-0.5 24,3 14,0.5 35-2.5 7,1 6.5,2 5.5,3 5.5,5 4,6 3,6 1.5,7z"/>
<path fill="#f2721c" fill-rule="evenodd" d="M1622,997.5l-6,1-0.5,8-2,8-2.5,7-3.5,5-5.5,5-8.5,0-6-5-4.5-7-3-10-1-11 20.5-0.5 1-0.5 0-19-1-1-90,0-0.5,1 0,19 0.5,0.5 21.5,0.5-2,15-2.5,6.5-3,5.5-3,3.5-3.5,2.5-8.5,0-6-5-4-7-3-10-1.5-11-7-1-0.5-5 2-10 4.5-8 6.5-6.5 8-3.5 11-1 24,4 13,1 10-0.5 19-3 10-1 6,1 6,2 5,3.5 4,4 3,5 2.5,6 1,6z"/>
<path fill="#ec521e" fill-rule="evenodd" d="M1507.5,1022.5l-4-4-2.5-5-2-7-0.5-8-8-1 0-6 1-6 2-5 3-4.5 4-3.5 4-2.5 5-1.5 5-0.5 9,1 16,4.5 6.5,4-36.5,0-1,1 0.5,19 0.5,0.5 17.5,0.5-2,12-4.5,9-3,3-3,1.5-4,0zM1603.5,1022l-3,1.5-4,0.5-3-1-3-2-5-8.5-2-11 0-3 16-0.5 1-0.5 0-19-1-1-36,0 6-4 15-3.5 9-1.5 5,0.5 5,1.5 5,2.5 3.5,3.5 3.5,5 2,5 1,5-0.5,6-6,1-1,7-1.5,7-3,5.5z"/>
<path fill="#e4361a" fill-rule="evenodd" d="M1511.5,1016.5l-3.5-2-3-4-1.5-5-1-7-8.5-1 0-8 2.5-7.5 2.5-3.5 3.5-3 8-3.5 10,0.5 13.5,5-24.5,0-1,1 0,19 1,1 13.5,0-1,7-2.5,6-4,4.5zM1600.5,1016l-2,0.5-3,0-4-3.5-3-6.5-1-8 12,0 1-1 0-19-1-1-24,0 12.5-4 9.5-0.5 8,2.5 6,6 3,8 0,8-6.5,1-2.5,11-2,3.5z"/>
<path fill="#cb2518" fill-rule="evenodd" d="M1512.5,1005l-2-1-1-1.5-1-4-10.5-1 0-8 2.5-6.5 5-4.5 6-2 9,1-11,0-1,1 0,19 1,1 7,0-1,4-1,1.5zM1597.5,1005l-2-1-1-1.5-1-4 6,0 1-1 0-19.5 5,2.5 3.5,4 2,5 0,8-9.5,1-1,4-1,1.5z"/>
<path fill="#a11f18" fill-rule="evenodd" d="M1503,997.5l-0.5-5 0.5-4 2-3 3.5-3 0,15.5zM1606,997.5l-5.5,0.5 0-14.5 3.5,3 1.5,3 1,4z"/>
</g></g>
<path d="M1434.6,998.2 H1675.6 M1434.6,1031.6000000000001 H1675.6" stroke="#fff" stroke-width="2.3" stroke-dasharray="3.6,2.8" fill="none"/>
<path d="M1509.1999999999998,998.2 V978.2 H1599.8999999999999 V998.2" stroke="#fff" stroke-width="2.3" stroke-dasharray="3.6,2.8" fill="none"/>
<path d="M1447.1999999999998,1041.2 V1070.9 H1478.6" stroke="#fff" stroke-width="1.8" fill="none"/>
<polygon points="1447.1999999999998,1037.7 1443.6,1045.2 1450.7999999999997,1045.2" fill="#fff"/>
<polygon points="1483.6,1070.9 1476.1,1067.3000000000002 1476.1,1074.5" fill="#fff"/>
<text x="1455.1" y="1050.8" font-size="29.5" font-weight="bold" fill="#fff">z</text>
<text x="1483.3999999999999" y="1078.4" font-size="29.5" font-weight="bold" fill="#fff">x</text>
<text x="1448.1" y="867.2" font-size="28" fill="#fff">(iv)</text>
<text x="1535.3999999999999" y="872.5" font-size="31" fill="#fff">|E|<tspan font-size="17" dy="-17" dx="1">2</tspan></text>
<linearGradient id="cbarF" x1="0" y1="0" x2="0" y2="1"><stop offset="0" stop-color="#8c1c18"/><stop offset="0.05" stop-color="#c02018"/><stop offset="0.15" stop-color="#e02818"/><stop offset="0.23" stop-color="#e84020"/><stop offset="0.28" stop-color="#f08020"/><stop offset="0.36" stop-color="#f8e000"/><stop offset="0.42" stop-color="#c8d820"/><stop offset="0.5" stop-color="#80c070"/><stop offset="0.6" stop-color="#60bca0"/><stop offset="0.66" stop-color="#40b8d8"/><stop offset="0.72" stop-color="#30a0e0"/><stop offset="0.78" stop-color="#3568c0"/><stop offset="0.85" stop-color="#3848a0"/><stop offset="0.92" stop-color="#3a3888"/><stop offset="1" stop-color="#42285f"/></linearGradient>
<rect x="1396.2" y="598.8" width="16.3" height="85.2" fill="url(#cbarF)" stroke="#fff" stroke-opacity="0.45" stroke-width="1"/>
<text x="1352.4" y="610.8" font-size="30.5" fill="#fff" textLength="40.2" lengthAdjust="spacingAndGlyphs">10<tspan font-size="20" dy="-16.5">3</tspan></text>
<text x="1352.4" y="651.5" font-size="30.5" fill="#fff" textLength="38" lengthAdjust="spacingAndGlyphs">10<tspan font-size="20" dy="-16.5">1</tspan></text>
<text x="1349.5" y="692.3" font-size="30.5" fill="#fff" textLength="43.6" lengthAdjust="spacingAndGlyphs">10<tspan font-size="20" dy="-16.5">-1</tspan></text>
</g>
</svg>
</body></html>
